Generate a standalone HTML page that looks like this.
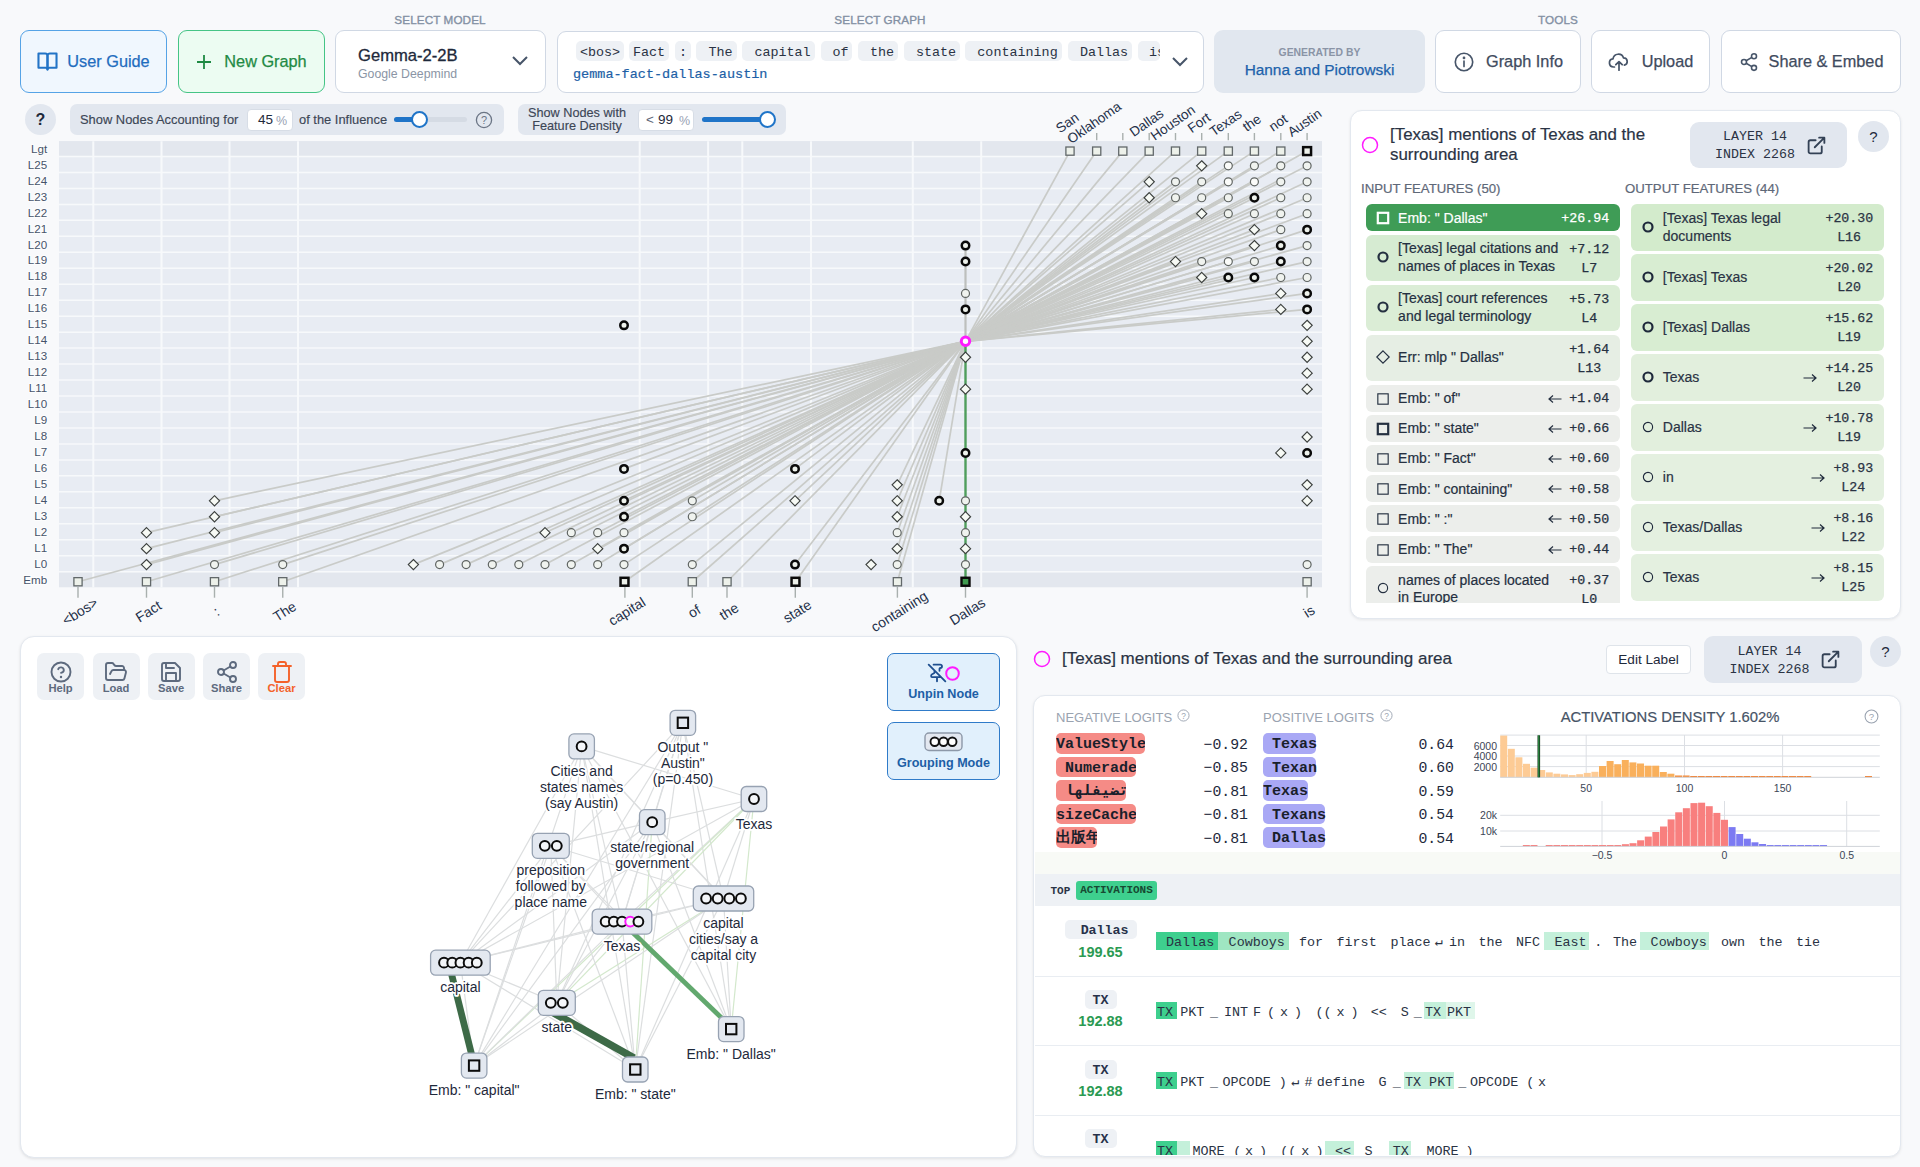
<!DOCTYPE html><html><head><meta charset="utf-8"><style>
*{box-sizing:border-box;margin:0;padding:0}
html,body{width:1920px;height:1167px;overflow:hidden;background:#f8f9fb;font-family:"Liberation Sans",sans-serif;color:#1e293b}
.a{position:absolute}
.lbl{position:absolute;font-size:11.7px;color:#8390a3;letter-spacing:0.1px;text-align:center;-webkit-text-stroke:0.35px #8390a3}
.btn{position:absolute;border:1.7px solid #d0d8e4;border-radius:9px;background:#fff;display:flex;align-items:center;justify-content:center;font-size:16.3px;color:#3f4b5e;-webkit-text-stroke:0.25px currentColor}
.mono{font-family:"Liberation Mono",monospace}
.chip{position:absolute;top:41px;height:20px;background:#eef1f5;border-radius:5px;font-family:"Liberation Mono",monospace;font-size:13.4px;color:#2a3344;line-height:23px;white-space:pre;text-align:center}
.ctl{position:absolute;background:#e2e7ef;border-radius:7px}
.ctxt{position:absolute;font-size:12.9px;color:#3c4656;white-space:nowrap;-webkit-text-stroke:0.15px currentColor}
.inp{position:absolute;background:#fff;border-radius:4px;border:1px solid #d7dde6}
.frow{position:absolute;border-radius:6px;font-size:14px;color:#2a3344}
.frow .t{position:absolute;left:31.8px;line-height:17px;white-space:nowrap;-webkit-text-stroke:0.2px currentColor}
.frow .v{position:absolute;font-family:"Liberation Mono",monospace;font-size:13.3px;text-align:right;line-height:22.5px;-webkit-text-stroke:0.25px currentColor}
.tb{position:absolute;top:653px;width:47px;height:47px;border-radius:7px;background:#eef1f5;font-size:11px;color:#5b6576;text-align:center}
.tb span{position:absolute;left:0;right:0;top:29px;font-weight:bold;font-size:11.2px}
.lg{position:absolute;font-family:"Liberation Mono",monospace;font-size:15px;font-weight:bold;height:20.5px;line-height:23px;border-radius:5px;padding:0 0px;color:#1a1f2b}
.lv{position:absolute;font-family:"Liberation Mono",monospace;font-size:14.8px;text-align:right;width:80px;line-height:20px;color:#1e293b}
.act{position:absolute;font-family:"Liberation Mono",monospace;font-size:13.4px;white-space:pre;color:#2a3344;line-height:18px}
.act b{font-weight:normal}
</style></head><body>
<div class="lbl" style="left:340px;top:12.7px;width:200px">SELECT MODEL</div>
<div class="lbl" style="left:780px;top:12.7px;width:200px">SELECT GRAPH</div>
<div class="lbl" style="left:1458px;top:12.7px;width:200px">TOOLS</div>
<div class="btn" style="left:20px;top:30px;width:147px;height:63px;background:#f0f7fe;border:1.8px solid #55a3e6;color:#1f6dbe"><svg width="21" height="19" viewBox="0 0 22 20" fill="none" stroke="#2374c6" stroke-width="2.2" stroke-linejoin="round" stroke-linecap="round" style="margin-right:9px"><path d="M1.5 1.5h7a2.5 2.5 0 0 1 2.5 2.5v14.5a2 2 0 0 0-2-2H1.5z"/><path d="M20.5 1.5h-7a2.5 2.5 0 0 0-2.5 2.5v14.5a2 2 0 0 1 2-2h7.5z"/></svg>User Guide</div>
<div class="btn" style="left:178px;top:30px;width:147px;height:63px;background:#ecfcf2;border:1.8px solid #45c486;color:#1f8a44"><svg width="16" height="16" viewBox="0 0 16 16" stroke="#1f8a44" stroke-width="1.8" style="margin-right:12px"><path d="M8 1v14M1 8h14"/></svg>New Graph</div>
<div class="btn" style="left:335px;top:30px;width:211px;height:63px;justify-content:flex-start;-webkit-text-stroke:0"><div class="a" style="left:22px;top:14.5px;font-size:16.6px;color:#1e293b;-webkit-text-stroke:0.3px #1e293b">Gemma-2-2B</div><div class="a" style="left:22px;top:36px;font-size:12.3px;color:#8b95a5">Google Deepmind</div><svg class="a" style="left:175px;top:24px" width="18" height="12" viewBox="0 0 18 12"><path d="M2 2l7 7 7-7" fill="none" stroke="#475569" stroke-width="2"/></svg></div>
<div class="btn" style="left:557px;top:31px;width:647px;height:62px;-webkit-text-stroke:0"></div>
<div class="chip" style="left:576px;width:48px">&lt;bos&gt;</div>
<div class="chip" style="left:629px;width:40px">Fact</div>
<div class="chip" style="left:675px;width:16px">:</div>
<div class="chip" style="left:696px;width:41px"> The</div>
<div class="chip" style="left:742px;width:73px"> capital</div>
<div class="chip" style="left:821px;width:31px"> of</div>
<div class="chip" style="left:858px;width:40px"> the</div>
<div class="chip" style="left:904px;width:56px"> state</div>
<div class="chip" style="left:965px;width:97px"> containing</div>
<div class="chip" style="left:1068px;width:64px"> Dallas</div>
<div class="chip" style="left:1138px;width:22px;overflow:hidden;text-align:left;padding-left:3px"> is</div>
<div class="a mono" style="left:573px;top:67px;font-size:13.5px;color:#1d5fa6;-webkit-text-stroke:0.2px #1d5fa6">gemma-fact-dallas-austin</div>
<svg class="a" style="left:1171px;top:56px" width="18" height="12" viewBox="0 0 18 12"><path d="M2 2l7 7 7-7" fill="none" stroke="#475569" stroke-width="2"/></svg>
<div class="a" style="left:1214px;top:30px;width:211px;height:63px;background:#e1e7ef;border-radius:9px"></div>
<div class="a" style="left:1214px;top:46.5px;width:211px;text-align:center;font-size:10.4px;font-weight:bold;color:#8a94a6">GENERATED BY</div>
<div class="a" style="left:1214px;top:61px;width:211px;text-align:center;font-size:15.4px;color:#1d62ab;-webkit-text-stroke:0.25px #1d62ab">Hanna and Piotrowski</div>
<div class="btn" style="left:1435px;top:30px;width:146px;height:63px"><svg width="22" height="22" viewBox="0 0 24 24" fill="none" stroke="#475569" stroke-width="1.8" style="margin-right:11px"><circle cx="12" cy="12" r="9.5"/><path d="M12 11v6" stroke-linecap="round"/><circle cx="12" cy="7.6" r="0.6" fill="#475569"/></svg>Graph Info</div>
<div class="btn" style="left:1591px;top:30px;width:119px;height:63px"><svg width="22" height="20" viewBox="0 0 24 22" fill="none" stroke="#475569" stroke-width="1.9" stroke-linecap="round" stroke-linejoin="round" style="margin-right:12px"><path d="M7 16.5H6a4.5 4.5 0 0 1-0.6-8.96A6 6 0 0 1 17 6.5a4 4 0 0 1 0.9 7.9"/><path d="M12 20v-9M8.5 14l3.5-3.5 3.5 3.5"/></svg>Upload</div>
<div class="btn" style="left:1721px;top:30px;width:180px;height:63px"><svg width="20" height="20" viewBox="0 0 24 24" fill="none" stroke="#475569" stroke-width="1.9" style="margin-right:10px"><circle cx="18" cy="5" r="3"/><circle cx="6" cy="12" r="3"/><circle cx="18" cy="19" r="3"/><path d="M8.6 13.5l6.8 4M15.4 6.5l-6.8 4"/></svg>Share &amp; Embed</div>
<div class="a" style="left:25px;top:104px;width:31px;height:31px;border-radius:50%;background:#e2e7ef;text-align:center;line-height:31px;font-size:16px;font-weight:bold;color:#1e293b">?</div>
<div class="ctl" style="left:70px;top:104px;width:434px;height:31px"></div>
<div class="ctxt" style="left:80px;top:111.5px">Show Nodes Accounting for</div>
<div class="inp" style="left:247px;top:109px;width:46px;height:22px"></div>
<div class="a" style="left:258px;top:111.5px;font-size:13.5px;color:#1e293b">45</div>
<div class="a" style="left:276px;top:113.5px;font-size:12.5px;color:#98a2b3">%</div>
<div class="ctxt" style="left:299px;top:111.5px">of the Influence</div>
<div class="a" style="left:394px;top:117px;width:73px;height:5px;border-radius:3px;background:#d5dbe4"></div>
<div class="a" style="left:394px;top:117px;width:26px;height:5px;border-radius:3px;background:#1f74c8"></div>
<div class="a" style="left:411px;top:111px;width:17px;height:17px;border-radius:50%;background:#fff;border:2px solid #1f74c8"></div>
<svg class="a" style="left:475px;top:111px" width="18" height="18" viewBox="0 0 18 18"><circle cx="9" cy="9" r="7.6" fill="none" stroke="#6b7585" stroke-width="1.3"/><text x="9" y="13" font-size="11" text-anchor="middle" fill="#6b7585" font-family="Liberation Sans">?</text></svg>
<div class="ctl" style="left:518px;top:104px;width:268px;height:31px"></div>
<div class="ctxt" style="left:518px;top:106.5px;width:118px;text-align:center;line-height:13px;font-size:12.7px">Show Nodes with<br>Feature Density</div>
<div class="inp" style="left:638px;top:109px;width:56px;height:22px"></div>
<div class="a" style="left:646px;top:111.5px;font-size:13.5px;color:#5b6576">&lt;</div>
<div class="a" style="left:658px;top:111.5px;font-size:13.5px;color:#1e293b">99</div>
<div class="a" style="left:679px;top:113.5px;font-size:12.5px;color:#98a2b3">%</div>
<div class="a" style="left:702px;top:117px;width:66px;height:5px;border-radius:3px;background:#1f74c8"></div>
<div class="a" style="left:759px;top:111px;width:17px;height:17px;border-radius:50%;background:#fff;border:2px solid #1f74c8"></div>
<svg class="a" style="left:0;top:0" width="1340" height="640" viewBox="0 0 1340 640"><rect x="59" y="141.2" width="1263" height="445.99" fill="#e8ecf3"/><rect x="59" y="141.2" width="1263" height="15" fill="#e3e7ee"/><rect x="59" y="572.39" width="1263" height="14.8" fill="#e3e7ee"/><line x1="59" x2="1322" y1="156.47" y2="156.47" stroke="#f7f9fb" stroke-width="1.5"/><line x1="59" x2="1322" y1="172.44" y2="172.44" stroke="#f7f9fb" stroke-width="1.5"/><line x1="59" x2="1322" y1="188.41" y2="188.41" stroke="#f7f9fb" stroke-width="1.5"/><line x1="59" x2="1322" y1="204.38" y2="204.38" stroke="#f7f9fb" stroke-width="1.5"/><line x1="59" x2="1322" y1="220.35" y2="220.35" stroke="#f7f9fb" stroke-width="1.5"/><line x1="59" x2="1322" y1="236.32" y2="236.32" stroke="#f7f9fb" stroke-width="1.5"/><line x1="59" x2="1322" y1="252.29" y2="252.29" stroke="#f7f9fb" stroke-width="1.5"/><line x1="59" x2="1322" y1="268.26" y2="268.26" stroke="#f7f9fb" stroke-width="1.5"/><line x1="59" x2="1322" y1="284.23" y2="284.23" stroke="#f7f9fb" stroke-width="1.5"/><line x1="59" x2="1322" y1="300.20" y2="300.20" stroke="#f7f9fb" stroke-width="1.5"/><line x1="59" x2="1322" y1="316.17" y2="316.17" stroke="#f7f9fb" stroke-width="1.5"/><line x1="59" x2="1322" y1="332.14" y2="332.14" stroke="#f7f9fb" stroke-width="1.5"/><line x1="59" x2="1322" y1="348.11" y2="348.11" stroke="#f7f9fb" stroke-width="1.5"/><line x1="59" x2="1322" y1="364.08" y2="364.08" stroke="#f7f9fb" stroke-width="1.5"/><line x1="59" x2="1322" y1="380.05" y2="380.05" stroke="#f7f9fb" stroke-width="1.5"/><line x1="59" x2="1322" y1="396.02" y2="396.02" stroke="#f7f9fb" stroke-width="1.5"/><line x1="59" x2="1322" y1="411.99" y2="411.99" stroke="#f7f9fb" stroke-width="1.5"/><line x1="59" x2="1322" y1="427.96" y2="427.96" stroke="#f7f9fb" stroke-width="1.5"/><line x1="59" x2="1322" y1="443.93" y2="443.93" stroke="#f7f9fb" stroke-width="1.5"/><line x1="59" x2="1322" y1="459.90" y2="459.90" stroke="#f7f9fb" stroke-width="1.5"/><line x1="59" x2="1322" y1="475.87" y2="475.87" stroke="#f7f9fb" stroke-width="1.5"/><line x1="59" x2="1322" y1="491.84" y2="491.84" stroke="#f7f9fb" stroke-width="1.5"/><line x1="59" x2="1322" y1="507.81" y2="507.81" stroke="#f7f9fb" stroke-width="1.5"/><line x1="59" x2="1322" y1="523.78" y2="523.78" stroke="#f7f9fb" stroke-width="1.5"/><line x1="59" x2="1322" y1="539.75" y2="539.75" stroke="#f7f9fb" stroke-width="1.5"/><line x1="59" x2="1322" y1="555.72" y2="555.72" stroke="#f7f9fb" stroke-width="1.5"/><line x1="59" x2="1322" y1="571.69" y2="571.69" stroke="#f7f9fb" stroke-width="1.5"/><line x1="93.3" x2="93.3" y1="141.2" y2="587.19" stroke="#f7f9fb" stroke-width="2"/><line x1="161.5" x2="161.5" y1="141.2" y2="587.19" stroke="#f7f9fb" stroke-width="2"/><line x1="229.5" x2="229.5" y1="141.2" y2="587.19" stroke="#f7f9fb" stroke-width="2"/><line x1="298" x2="298" y1="141.2" y2="587.19" stroke="#f7f9fb" stroke-width="2"/><line x1="639.7" x2="639.7" y1="141.2" y2="587.19" stroke="#f7f9fb" stroke-width="2"/><line x1="708.1" x2="708.1" y1="141.2" y2="587.19" stroke="#f7f9fb" stroke-width="2"/><line x1="742.3" x2="742.3" y1="141.2" y2="587.19" stroke="#f7f9fb" stroke-width="2"/><line x1="811" x2="811" y1="141.2" y2="587.19" stroke="#f7f9fb" stroke-width="2"/><line x1="912.8" x2="912.8" y1="141.2" y2="587.19" stroke="#f7f9fb" stroke-width="2"/><line x1="981.2" x2="981.2" y1="141.2" y2="587.19" stroke="#f7f9fb" stroke-width="2"/><text x="47.2" y="152.70" font-size="11.6" text-anchor="end" fill="#46536a" stroke="#fff" stroke-width="2" stroke-opacity="0.7" paint-order="stroke" font-family="Liberation Sans">Lgt</text><text x="47.2" y="168.67" font-size="11.6" text-anchor="end" fill="#46536a" stroke="#fff" stroke-width="2" stroke-opacity="0.7" paint-order="stroke" font-family="Liberation Sans">L25</text><text x="47.2" y="184.64" font-size="11.6" text-anchor="end" fill="#46536a" stroke="#fff" stroke-width="2" stroke-opacity="0.7" paint-order="stroke" font-family="Liberation Sans">L24</text><text x="47.2" y="200.61" font-size="11.6" text-anchor="end" fill="#46536a" stroke="#fff" stroke-width="2" stroke-opacity="0.7" paint-order="stroke" font-family="Liberation Sans">L23</text><text x="47.2" y="216.58" font-size="11.6" text-anchor="end" fill="#46536a" stroke="#fff" stroke-width="2" stroke-opacity="0.7" paint-order="stroke" font-family="Liberation Sans">L22</text><text x="47.2" y="232.55" font-size="11.6" text-anchor="end" fill="#46536a" stroke="#fff" stroke-width="2" stroke-opacity="0.7" paint-order="stroke" font-family="Liberation Sans">L21</text><text x="47.2" y="248.52" font-size="11.6" text-anchor="end" fill="#46536a" stroke="#fff" stroke-width="2" stroke-opacity="0.7" paint-order="stroke" font-family="Liberation Sans">L20</text><text x="47.2" y="264.49" font-size="11.6" text-anchor="end" fill="#46536a" stroke="#fff" stroke-width="2" stroke-opacity="0.7" paint-order="stroke" font-family="Liberation Sans">L19</text><text x="47.2" y="280.46" font-size="11.6" text-anchor="end" fill="#46536a" stroke="#fff" stroke-width="2" stroke-opacity="0.7" paint-order="stroke" font-family="Liberation Sans">L18</text><text x="47.2" y="296.43" font-size="11.6" text-anchor="end" fill="#46536a" stroke="#fff" stroke-width="2" stroke-opacity="0.7" paint-order="stroke" font-family="Liberation Sans">L17</text><text x="47.2" y="312.40" font-size="11.6" text-anchor="end" fill="#46536a" stroke="#fff" stroke-width="2" stroke-opacity="0.7" paint-order="stroke" font-family="Liberation Sans">L16</text><text x="47.2" y="328.37" font-size="11.6" text-anchor="end" fill="#46536a" stroke="#fff" stroke-width="2" stroke-opacity="0.7" paint-order="stroke" font-family="Liberation Sans">L15</text><text x="47.2" y="344.34" font-size="11.6" text-anchor="end" fill="#46536a" stroke="#fff" stroke-width="2" stroke-opacity="0.7" paint-order="stroke" font-family="Liberation Sans">L14</text><text x="47.2" y="360.31" font-size="11.6" text-anchor="end" fill="#46536a" stroke="#fff" stroke-width="2" stroke-opacity="0.7" paint-order="stroke" font-family="Liberation Sans">L13</text><text x="47.2" y="376.28" font-size="11.6" text-anchor="end" fill="#46536a" stroke="#fff" stroke-width="2" stroke-opacity="0.7" paint-order="stroke" font-family="Liberation Sans">L12</text><text x="47.2" y="392.25" font-size="11.6" text-anchor="end" fill="#46536a" stroke="#fff" stroke-width="2" stroke-opacity="0.7" paint-order="stroke" font-family="Liberation Sans">L11</text><text x="47.2" y="408.22" font-size="11.6" text-anchor="end" fill="#46536a" stroke="#fff" stroke-width="2" stroke-opacity="0.7" paint-order="stroke" font-family="Liberation Sans">L10</text><text x="47.2" y="424.19" font-size="11.6" text-anchor="end" fill="#46536a" stroke="#fff" stroke-width="2" stroke-opacity="0.7" paint-order="stroke" font-family="Liberation Sans">L9</text><text x="47.2" y="440.16" font-size="11.6" text-anchor="end" fill="#46536a" stroke="#fff" stroke-width="2" stroke-opacity="0.7" paint-order="stroke" font-family="Liberation Sans">L8</text><text x="47.2" y="456.13" font-size="11.6" text-anchor="end" fill="#46536a" stroke="#fff" stroke-width="2" stroke-opacity="0.7" paint-order="stroke" font-family="Liberation Sans">L7</text><text x="47.2" y="472.10" font-size="11.6" text-anchor="end" fill="#46536a" stroke="#fff" stroke-width="2" stroke-opacity="0.7" paint-order="stroke" font-family="Liberation Sans">L6</text><text x="47.2" y="488.07" font-size="11.6" text-anchor="end" fill="#46536a" stroke="#fff" stroke-width="2" stroke-opacity="0.7" paint-order="stroke" font-family="Liberation Sans">L5</text><text x="47.2" y="504.04" font-size="11.6" text-anchor="end" fill="#46536a" stroke="#fff" stroke-width="2" stroke-opacity="0.7" paint-order="stroke" font-family="Liberation Sans">L4</text><text x="47.2" y="520.01" font-size="11.6" text-anchor="end" fill="#46536a" stroke="#fff" stroke-width="2" stroke-opacity="0.7" paint-order="stroke" font-family="Liberation Sans">L3</text><text x="47.2" y="535.98" font-size="11.6" text-anchor="end" fill="#46536a" stroke="#fff" stroke-width="2" stroke-opacity="0.7" paint-order="stroke" font-family="Liberation Sans">L2</text><text x="47.2" y="551.95" font-size="11.6" text-anchor="end" fill="#46536a" stroke="#fff" stroke-width="2" stroke-opacity="0.7" paint-order="stroke" font-family="Liberation Sans">L1</text><text x="47.2" y="567.92" font-size="11.6" text-anchor="end" fill="#46536a" stroke="#fff" stroke-width="2" stroke-opacity="0.7" paint-order="stroke" font-family="Liberation Sans">L0</text><text x="47.2" y="583.89" font-size="11.6" text-anchor="end" fill="#46536a" stroke="#fff" stroke-width="2" stroke-opacity="0.7" paint-order="stroke" font-family="Liberation Sans">Emb</text><line x1="965.5" y1="341.30" x2="78" y2="581.75" stroke="#c9cbc8" stroke-width="1.7"/><line x1="965.5" y1="341.30" x2="146.5" y2="532.70" stroke="#c9cbc8" stroke-width="1.7"/><line x1="965.5" y1="341.30" x2="146.5" y2="548.65" stroke="#c9cbc8" stroke-width="1.7"/><line x1="965.5" y1="341.30" x2="146.5" y2="564.60" stroke="#c9cbc8" stroke-width="1.7"/><line x1="965.5" y1="341.30" x2="146.5" y2="581.75" stroke="#c9cbc8" stroke-width="1.7"/><line x1="965.5" y1="341.30" x2="214.5" y2="500.80" stroke="#c9cbc8" stroke-width="1.7"/><line x1="965.5" y1="341.30" x2="214.5" y2="516.75" stroke="#c9cbc8" stroke-width="1.7"/><line x1="965.5" y1="341.30" x2="214.5" y2="532.70" stroke="#c9cbc8" stroke-width="1.7"/><line x1="965.5" y1="341.30" x2="214.5" y2="564.60" stroke="#c9cbc8" stroke-width="1.7"/><line x1="965.5" y1="341.30" x2="214.5" y2="581.75" stroke="#c9cbc8" stroke-width="1.7"/><line x1="965.5" y1="341.30" x2="282.75" y2="564.60" stroke="#c9cbc8" stroke-width="1.7"/><line x1="965.5" y1="341.30" x2="282.75" y2="581.75" stroke="#c9cbc8" stroke-width="1.7"/><line x1="965.5" y1="341.30" x2="413.4" y2="564.60" stroke="#c9cbc8" stroke-width="1.7"/><line x1="965.5" y1="341.30" x2="439.6" y2="564.60" stroke="#c9cbc8" stroke-width="1.7"/><line x1="965.5" y1="341.30" x2="466.1" y2="564.60" stroke="#c9cbc8" stroke-width="1.7"/><line x1="965.5" y1="341.30" x2="492.3" y2="564.60" stroke="#c9cbc8" stroke-width="1.7"/><line x1="965.5" y1="341.30" x2="518.8" y2="564.60" stroke="#c9cbc8" stroke-width="1.7"/><line x1="965.5" y1="341.30" x2="545" y2="564.60" stroke="#c9cbc8" stroke-width="1.7"/><line x1="965.5" y1="341.30" x2="571.3" y2="564.60" stroke="#c9cbc8" stroke-width="1.7"/><line x1="965.5" y1="341.30" x2="597.7" y2="564.60" stroke="#c9cbc8" stroke-width="1.7"/><line x1="965.5" y1="341.30" x2="545" y2="532.70" stroke="#c9cbc8" stroke-width="1.7"/><line x1="965.5" y1="341.30" x2="571.3" y2="532.70" stroke="#c9cbc8" stroke-width="1.7"/><line x1="965.5" y1="341.30" x2="597.7" y2="532.70" stroke="#c9cbc8" stroke-width="1.7"/><line x1="965.5" y1="341.30" x2="597.7" y2="548.65" stroke="#c9cbc8" stroke-width="1.7"/><line x1="965.5" y1="341.30" x2="624.0" y2="468.90" stroke="#c9cbc8" stroke-width="1.7"/><line x1="965.5" y1="341.30" x2="624.0" y2="500.80" stroke="#c9cbc8" stroke-width="1.7"/><line x1="965.5" y1="341.30" x2="624.0" y2="516.75" stroke="#c9cbc8" stroke-width="1.7"/><line x1="965.5" y1="341.30" x2="624.0" y2="532.70" stroke="#c9cbc8" stroke-width="1.7"/><line x1="965.5" y1="341.30" x2="624.0" y2="548.65" stroke="#c9cbc8" stroke-width="1.7"/><line x1="965.5" y1="341.30" x2="624.0" y2="564.60" stroke="#c9cbc8" stroke-width="1.7"/><line x1="965.5" y1="341.30" x2="624.5" y2="581.75" stroke="#c9cbc8" stroke-width="1.7"/><line x1="965.5" y1="341.30" x2="692.3" y2="500.80" stroke="#c9cbc8" stroke-width="1.7"/><line x1="965.5" y1="341.30" x2="692.3" y2="516.75" stroke="#c9cbc8" stroke-width="1.7"/><line x1="965.5" y1="341.30" x2="692.3" y2="564.60" stroke="#c9cbc8" stroke-width="1.7"/><line x1="965.5" y1="341.30" x2="692.3" y2="581.75" stroke="#c9cbc8" stroke-width="1.7"/><line x1="965.5" y1="341.30" x2="727" y2="581.75" stroke="#c9cbc8" stroke-width="1.7"/><line x1="965.5" y1="341.30" x2="795" y2="468.90" stroke="#c9cbc8" stroke-width="1.7"/><line x1="965.5" y1="341.30" x2="795" y2="500.80" stroke="#c9cbc8" stroke-width="1.7"/><line x1="965.5" y1="341.30" x2="795" y2="564.60" stroke="#c9cbc8" stroke-width="1.7"/><line x1="965.5" y1="341.30" x2="795.5" y2="581.75" stroke="#c9cbc8" stroke-width="1.7"/><line x1="965.5" y1="341.30" x2="897.2" y2="484.85" stroke="#c9cbc8" stroke-width="1.7"/><line x1="965.5" y1="341.30" x2="897.2" y2="500.80" stroke="#c9cbc8" stroke-width="1.7"/><line x1="965.5" y1="341.30" x2="897.2" y2="516.75" stroke="#c9cbc8" stroke-width="1.7"/><line x1="965.5" y1="341.30" x2="897.2" y2="532.70" stroke="#c9cbc8" stroke-width="1.7"/><line x1="965.5" y1="341.30" x2="897.2" y2="548.65" stroke="#c9cbc8" stroke-width="1.7"/><line x1="965.5" y1="341.30" x2="897.2" y2="564.60" stroke="#c9cbc8" stroke-width="1.7"/><line x1="965.5" y1="341.30" x2="897.4" y2="581.75" stroke="#c9cbc8" stroke-width="1.7"/><line x1="965.5" y1="341.30" x2="939.2" y2="500.80" stroke="#c9cbc8" stroke-width="1.7"/><line x1="965.5" y1="341.30" x2="1070" y2="151.10" stroke="#c9cbc8" stroke-width="1.7"/><line x1="965.5" y1="341.30" x2="1096.7" y2="151.10" stroke="#c9cbc8" stroke-width="1.7"/><line x1="965.5" y1="341.30" x2="1122.8" y2="151.10" stroke="#c9cbc8" stroke-width="1.7"/><line x1="965.5" y1="341.30" x2="1149.2" y2="151.10" stroke="#c9cbc8" stroke-width="1.7"/><line x1="965.5" y1="341.30" x2="1175.5" y2="151.10" stroke="#c9cbc8" stroke-width="1.7"/><line x1="965.5" y1="341.30" x2="1201.7" y2="151.10" stroke="#c9cbc8" stroke-width="1.7"/><line x1="965.5" y1="341.30" x2="1228.3" y2="151.10" stroke="#c9cbc8" stroke-width="1.7"/><line x1="965.5" y1="341.30" x2="1254.4" y2="151.10" stroke="#c9cbc8" stroke-width="1.7"/><line x1="965.5" y1="341.30" x2="1280.8" y2="151.10" stroke="#c9cbc8" stroke-width="1.7"/><line x1="965.5" y1="341.30" x2="1307.1" y2="151.10" stroke="#c9cbc8" stroke-width="1.7"/><line x1="965.5" y1="341.30" x2="1201.7" y2="165.85" stroke="#c9cbc8" stroke-width="1.7"/><line x1="965.5" y1="341.30" x2="1228.3" y2="165.85" stroke="#c9cbc8" stroke-width="1.7"/><line x1="965.5" y1="341.30" x2="1254.4" y2="165.85" stroke="#c9cbc8" stroke-width="1.7"/><line x1="965.5" y1="341.30" x2="1280.8" y2="165.85" stroke="#c9cbc8" stroke-width="1.7"/><line x1="965.5" y1="341.30" x2="1307.1" y2="165.85" stroke="#c9cbc8" stroke-width="1.7"/><line x1="965.5" y1="341.30" x2="1149.2" y2="181.80" stroke="#c9cbc8" stroke-width="1.7"/><line x1="965.5" y1="341.30" x2="1175.5" y2="181.80" stroke="#c9cbc8" stroke-width="1.7"/><line x1="965.5" y1="341.30" x2="1201.7" y2="181.80" stroke="#c9cbc8" stroke-width="1.7"/><line x1="965.5" y1="341.30" x2="1228.3" y2="181.80" stroke="#c9cbc8" stroke-width="1.7"/><line x1="965.5" y1="341.30" x2="1254.4" y2="181.80" stroke="#c9cbc8" stroke-width="1.7"/><line x1="965.5" y1="341.30" x2="1280.8" y2="181.80" stroke="#c9cbc8" stroke-width="1.7"/><line x1="965.5" y1="341.30" x2="1307.1" y2="181.80" stroke="#c9cbc8" stroke-width="1.7"/><line x1="965.5" y1="341.30" x2="1149.2" y2="197.75" stroke="#c9cbc8" stroke-width="1.7"/><line x1="965.5" y1="341.30" x2="1175.5" y2="197.75" stroke="#c9cbc8" stroke-width="1.7"/><line x1="965.5" y1="341.30" x2="1201.7" y2="197.75" stroke="#c9cbc8" stroke-width="1.7"/><line x1="965.5" y1="341.30" x2="1228.3" y2="197.75" stroke="#c9cbc8" stroke-width="1.7"/><line x1="965.5" y1="341.30" x2="1254.4" y2="197.75" stroke="#c9cbc8" stroke-width="1.7"/><line x1="965.5" y1="341.30" x2="1280.8" y2="197.75" stroke="#c9cbc8" stroke-width="1.7"/><line x1="965.5" y1="341.30" x2="1307.1" y2="197.75" stroke="#c9cbc8" stroke-width="1.7"/><line x1="965.5" y1="341.30" x2="1201.7" y2="213.70" stroke="#c9cbc8" stroke-width="1.7"/><line x1="965.5" y1="341.30" x2="1228.3" y2="213.70" stroke="#c9cbc8" stroke-width="1.7"/><line x1="965.5" y1="341.30" x2="1254.4" y2="213.70" stroke="#c9cbc8" stroke-width="1.7"/><line x1="965.5" y1="341.30" x2="1280.8" y2="213.70" stroke="#c9cbc8" stroke-width="1.7"/><line x1="965.5" y1="341.30" x2="1307.1" y2="213.70" stroke="#c9cbc8" stroke-width="1.7"/><line x1="965.5" y1="341.30" x2="1254.4" y2="229.65" stroke="#c9cbc8" stroke-width="1.7"/><line x1="965.5" y1="341.30" x2="1280.8" y2="229.65" stroke="#c9cbc8" stroke-width="1.7"/><line x1="965.5" y1="341.30" x2="1307.1" y2="229.65" stroke="#c9cbc8" stroke-width="1.7"/><line x1="965.5" y1="341.30" x2="1254.4" y2="245.60" stroke="#c9cbc8" stroke-width="1.7"/><line x1="965.5" y1="341.30" x2="1280.8" y2="245.60" stroke="#c9cbc8" stroke-width="1.7"/><line x1="965.5" y1="341.30" x2="1307.1" y2="245.60" stroke="#c9cbc8" stroke-width="1.7"/><line x1="965.5" y1="341.30" x2="1175.5" y2="261.55" stroke="#c9cbc8" stroke-width="1.7"/><line x1="965.5" y1="341.30" x2="1201.7" y2="261.55" stroke="#c9cbc8" stroke-width="1.7"/><line x1="965.5" y1="341.30" x2="1228.3" y2="261.55" stroke="#c9cbc8" stroke-width="1.7"/><line x1="965.5" y1="341.30" x2="1254.4" y2="261.55" stroke="#c9cbc8" stroke-width="1.7"/><line x1="965.5" y1="341.30" x2="1280.8" y2="261.55" stroke="#c9cbc8" stroke-width="1.7"/><line x1="965.5" y1="341.30" x2="1307.1" y2="261.55" stroke="#c9cbc8" stroke-width="1.7"/><line x1="965.5" y1="341.30" x2="1201.7" y2="277.50" stroke="#c9cbc8" stroke-width="1.7"/><line x1="965.5" y1="341.30" x2="1228.3" y2="277.50" stroke="#c9cbc8" stroke-width="1.7"/><line x1="965.5" y1="341.30" x2="1254.4" y2="277.50" stroke="#c9cbc8" stroke-width="1.7"/><line x1="965.5" y1="341.30" x2="1280.8" y2="277.50" stroke="#c9cbc8" stroke-width="1.7"/><line x1="965.5" y1="341.30" x2="1307.1" y2="277.50" stroke="#c9cbc8" stroke-width="1.7"/><line x1="965.5" y1="341.30" x2="1280.8" y2="293.45" stroke="#c9cbc8" stroke-width="1.7"/><line x1="965.5" y1="341.30" x2="1307.1" y2="293.45" stroke="#c9cbc8" stroke-width="1.7"/><line x1="965.5" y1="341.30" x2="1280.8" y2="309.40" stroke="#c9cbc8" stroke-width="1.7"/><line x1="965.5" y1="341.30" x2="1307.1" y2="309.40" stroke="#c9cbc8" stroke-width="1.7"/><line x1="965.5" y1="245.60" x2="965.5" y2="341.30" stroke="#bdbfbd" stroke-width="2.2"/><line x1="965.5" y1="341.30" x2="965.5" y2="581.75" stroke="#4f9e5c" stroke-width="2.4"/><rect x="73.9" y="577.65" width="8.2" height="8.2" fill="#edf1ea" stroke="#62686a" stroke-width="1.3"/><path d="M146.5 527.60L151.6 532.70L146.5 537.80L141.4 532.70Z" fill="#f7faf5" stroke="#3c403e" stroke-width="1.15"/><path d="M146.5 543.55L151.6 548.65L146.5 553.75L141.4 548.65Z" fill="#f7faf5" stroke="#3c403e" stroke-width="1.15"/><path d="M146.5 559.50L151.6 564.60L146.5 569.70L141.4 564.60Z" fill="#f7faf5" stroke="#3c403e" stroke-width="1.15"/><rect x="142.4" y="577.65" width="8.2" height="8.2" fill="#edf1ea" stroke="#62686a" stroke-width="1.3"/><path d="M214.5 495.70L219.6 500.80L214.5 505.90L209.4 500.80Z" fill="#f7faf5" stroke="#3c403e" stroke-width="1.15"/><path d="M214.5 511.65L219.6 516.75L214.5 521.85L209.4 516.75Z" fill="#f7faf5" stroke="#3c403e" stroke-width="1.15"/><path d="M214.5 527.60L219.6 532.70L214.5 537.80L209.4 532.70Z" fill="#f7faf5" stroke="#3c403e" stroke-width="1.15"/><circle cx="214.5" cy="564.60" r="4.0" fill="#f0f3ef" stroke="#5f6462" stroke-width="1.2"/><rect x="210.4" y="577.65" width="8.2" height="8.2" fill="#edf1ea" stroke="#62686a" stroke-width="1.3"/><circle cx="282.75" cy="564.60" r="4.0" fill="#f0f3ef" stroke="#5f6462" stroke-width="1.2"/><rect x="278.65" y="577.65" width="8.2" height="8.2" fill="#edf1ea" stroke="#62686a" stroke-width="1.3"/><path d="M413.4 559.50L418.5 564.60L413.4 569.70L408.29999999999995 564.60Z" fill="#f7faf5" stroke="#3c403e" stroke-width="1.15"/><circle cx="439.6" cy="564.60" r="4.0" fill="#f0f3ef" stroke="#5f6462" stroke-width="1.2"/><circle cx="466.1" cy="564.60" r="4.0" fill="#f0f3ef" stroke="#5f6462" stroke-width="1.2"/><circle cx="492.3" cy="564.60" r="4.0" fill="#f0f3ef" stroke="#5f6462" stroke-width="1.2"/><circle cx="518.8" cy="564.60" r="4.0" fill="#f0f3ef" stroke="#5f6462" stroke-width="1.2"/><circle cx="545" cy="564.60" r="4.0" fill="#f0f3ef" stroke="#5f6462" stroke-width="1.2"/><circle cx="571.3" cy="564.60" r="4.0" fill="#f0f3ef" stroke="#5f6462" stroke-width="1.2"/><circle cx="597.7" cy="564.60" r="4.0" fill="#f0f3ef" stroke="#5f6462" stroke-width="1.2"/><path d="M545 527.60L550.1 532.70L545 537.80L539.9 532.70Z" fill="#f7faf5" stroke="#3c403e" stroke-width="1.15"/><circle cx="571.3" cy="532.70" r="4.0" fill="#f0f3ef" stroke="#5f6462" stroke-width="1.2"/><circle cx="597.7" cy="532.70" r="4.0" fill="#f0f3ef" stroke="#5f6462" stroke-width="1.2"/><path d="M597.7 543.55L602.8000000000001 548.65L597.7 553.75L592.6 548.65Z" fill="#f7faf5" stroke="#3c403e" stroke-width="1.15"/><circle cx="624.0" cy="325.35" r="3.75" fill="#eef2ec" stroke="#0a0a0a" stroke-width="2.5"/><circle cx="624.0" cy="468.90" r="3.75" fill="#eef2ec" stroke="#0a0a0a" stroke-width="2.5"/><circle cx="624.0" cy="500.80" r="3.75" fill="#eef2ec" stroke="#0a0a0a" stroke-width="2.5"/><circle cx="624.0" cy="516.75" r="3.75" fill="#eef2ec" stroke="#0a0a0a" stroke-width="2.5"/><circle cx="624.0" cy="532.70" r="4.0" fill="#f0f3ef" stroke="#5f6462" stroke-width="1.2"/><circle cx="624.0" cy="548.65" r="3.75" fill="#eef2ec" stroke="#0a0a0a" stroke-width="2.5"/><circle cx="624.0" cy="564.60" r="4.0" fill="#f0f3ef" stroke="#5f6462" stroke-width="1.2"/><rect x="620.55" y="577.80" width="7.9" height="7.9" fill="#edf1ea" stroke="#0a0a0a" stroke-width="2.5"/><circle cx="692.3" cy="500.80" r="4.0" fill="#f0f3ef" stroke="#5f6462" stroke-width="1.2"/><circle cx="692.3" cy="516.75" r="4.0" fill="#f0f3ef" stroke="#5f6462" stroke-width="1.2"/><circle cx="692.3" cy="564.60" r="4.0" fill="#f0f3ef" stroke="#5f6462" stroke-width="1.2"/><rect x="688.1999999999999" y="577.65" width="8.2" height="8.2" fill="#edf1ea" stroke="#62686a" stroke-width="1.3"/><rect x="722.9" y="577.65" width="8.2" height="8.2" fill="#edf1ea" stroke="#62686a" stroke-width="1.3"/><circle cx="795" cy="468.90" r="3.75" fill="#eef2ec" stroke="#0a0a0a" stroke-width="2.5"/><path d="M795 495.70L800.1 500.80L795 505.90L789.9 500.80Z" fill="#f7faf5" stroke="#3c403e" stroke-width="1.15"/><circle cx="795" cy="564.60" r="3.75" fill="#eef2ec" stroke="#0a0a0a" stroke-width="2.5"/><rect x="791.55" y="577.80" width="7.9" height="7.9" fill="#edf1ea" stroke="#0a0a0a" stroke-width="2.5"/><path d="M897.2 479.75L902.3000000000001 484.85L897.2 489.95L892.1 484.85Z" fill="#f7faf5" stroke="#3c403e" stroke-width="1.15"/><path d="M897.2 495.70L902.3000000000001 500.80L897.2 505.90L892.1 500.80Z" fill="#f7faf5" stroke="#3c403e" stroke-width="1.15"/><path d="M897.2 511.65L902.3000000000001 516.75L897.2 521.85L892.1 516.75Z" fill="#f7faf5" stroke="#3c403e" stroke-width="1.15"/><circle cx="897.2" cy="532.70" r="4.0" fill="#f0f3ef" stroke="#5f6462" stroke-width="1.2"/><path d="M897.2 543.55L902.3000000000001 548.65L897.2 553.75L892.1 548.65Z" fill="#f7faf5" stroke="#3c403e" stroke-width="1.15"/><circle cx="897.2" cy="564.60" r="4.0" fill="#f0f3ef" stroke="#5f6462" stroke-width="1.2"/><rect x="893.3" y="577.65" width="8.2" height="8.2" fill="#edf1ea" stroke="#62686a" stroke-width="1.3"/><path d="M871.1 559.50L876.2 564.60L871.1 569.70L866.0 564.60Z" fill="#f7faf5" stroke="#3c403e" stroke-width="1.15"/><circle cx="939.2" cy="500.80" r="3.75" fill="#eef2ec" stroke="#0a0a0a" stroke-width="2.5"/><circle cx="965.5" cy="245.60" r="3.75" fill="#eef2ec" stroke="#0a0a0a" stroke-width="2.5"/><circle cx="965.5" cy="261.55" r="3.75" fill="#eef2ec" stroke="#0a0a0a" stroke-width="2.5"/><circle cx="965.5" cy="293.45" r="4.0" fill="#f0f3ef" stroke="#5f6462" stroke-width="1.2"/><circle cx="965.5" cy="309.40" r="3.75" fill="#eef2ec" stroke="#0a0a0a" stroke-width="2.5"/><path d="M965.5 352.15L970.6 357.25L965.5 362.35L960.4 357.25Z" fill="#f7faf5" stroke="#3c403e" stroke-width="1.15"/><path d="M965.5 384.05L970.6 389.15L965.5 394.25L960.4 389.15Z" fill="#f7faf5" stroke="#3c403e" stroke-width="1.15"/><circle cx="965.5" cy="452.95" r="3.75" fill="#eef2ec" stroke="#0a0a0a" stroke-width="2.5"/><circle cx="965.5" cy="500.80" r="4.0" fill="#f0f3ef" stroke="#5f6462" stroke-width="1.2"/><path d="M965.5 511.65L970.6 516.75L965.5 521.85L960.4 516.75Z" fill="#f7faf5" stroke="#3c403e" stroke-width="1.15"/><circle cx="965.5" cy="532.70" r="4.0" fill="#f0f3ef" stroke="#5f6462" stroke-width="1.2"/><path d="M965.5 543.55L970.6 548.65L965.5 553.75L960.4 548.65Z" fill="#f7faf5" stroke="#3c403e" stroke-width="1.15"/><circle cx="965.5" cy="564.60" r="4.0" fill="#f0f3ef" stroke="#5f6462" stroke-width="1.2"/><rect x="961.5" y="577.75" width="8" height="8" fill="#3f9a4f" stroke="#0a0a0a" stroke-width="2.4"/><rect x="1065.9" y="147.00" width="8.2" height="8.2" fill="#edf1ea" stroke="#62686a" stroke-width="1.3"/><rect x="1092.6000000000001" y="147.00" width="8.2" height="8.2" fill="#edf1ea" stroke="#62686a" stroke-width="1.3"/><rect x="1118.7" y="147.00" width="8.2" height="8.2" fill="#edf1ea" stroke="#62686a" stroke-width="1.3"/><rect x="1145.1000000000001" y="147.00" width="8.2" height="8.2" fill="#edf1ea" stroke="#62686a" stroke-width="1.3"/><rect x="1171.4" y="147.00" width="8.2" height="8.2" fill="#edf1ea" stroke="#62686a" stroke-width="1.3"/><rect x="1197.6000000000001" y="147.00" width="8.2" height="8.2" fill="#edf1ea" stroke="#62686a" stroke-width="1.3"/><rect x="1224.2" y="147.00" width="8.2" height="8.2" fill="#edf1ea" stroke="#62686a" stroke-width="1.3"/><rect x="1250.3000000000002" y="147.00" width="8.2" height="8.2" fill="#edf1ea" stroke="#62686a" stroke-width="1.3"/><rect x="1276.7" y="147.00" width="8.2" height="8.2" fill="#edf1ea" stroke="#62686a" stroke-width="1.3"/><rect x="1303.1499999999999" y="147.15" width="7.9" height="7.9" fill="#edf1ea" stroke="#0a0a0a" stroke-width="2.5"/><path d="M1201.7 160.75L1206.8 165.85L1201.7 170.95L1196.6000000000001 165.85Z" fill="#f7faf5" stroke="#3c403e" stroke-width="1.15"/><circle cx="1228.3" cy="165.85" r="4.0" fill="#fbfcfa" stroke="#5f6462" stroke-width="1.2"/><circle cx="1254.4" cy="165.85" r="4.0" fill="#f0f3ef" stroke="#5f6462" stroke-width="1.2"/><circle cx="1280.8" cy="165.85" r="4.0" fill="#f0f3ef" stroke="#5f6462" stroke-width="1.2"/><circle cx="1307.1" cy="165.85" r="4.0" fill="#f0f3ef" stroke="#5f6462" stroke-width="1.2"/><path d="M1149.2 176.70L1154.3 181.80L1149.2 186.90L1144.1000000000001 181.80Z" fill="#f7faf5" stroke="#3c403e" stroke-width="1.15"/><circle cx="1175.5" cy="181.80" r="4.0" fill="#f0f3ef" stroke="#5f6462" stroke-width="1.2"/><circle cx="1201.7" cy="181.80" r="4.0" fill="#f0f3ef" stroke="#5f6462" stroke-width="1.2"/><circle cx="1228.3" cy="181.80" r="4.0" fill="#fbfcfa" stroke="#5f6462" stroke-width="1.2"/><circle cx="1254.4" cy="181.80" r="4.0" fill="#fbfcfa" stroke="#5f6462" stroke-width="1.2"/><circle cx="1280.8" cy="181.80" r="4.0" fill="#f0f3ef" stroke="#5f6462" stroke-width="1.2"/><circle cx="1307.1" cy="181.80" r="4.0" fill="#f0f3ef" stroke="#5f6462" stroke-width="1.2"/><path d="M1149.2 192.65L1154.3 197.75L1149.2 202.85L1144.1000000000001 197.75Z" fill="#f7faf5" stroke="#3c403e" stroke-width="1.15"/><circle cx="1175.5" cy="197.75" r="4.0" fill="#f0f3ef" stroke="#5f6462" stroke-width="1.2"/><circle cx="1201.7" cy="197.75" r="4.0" fill="#f0f3ef" stroke="#5f6462" stroke-width="1.2"/><circle cx="1228.3" cy="197.75" r="4.0" fill="#f0f3ef" stroke="#5f6462" stroke-width="1.2"/><circle cx="1254.4" cy="197.75" r="3.75" fill="#eef2ec" stroke="#0a0a0a" stroke-width="2.5"/><circle cx="1280.8" cy="197.75" r="4.0" fill="#f0f3ef" stroke="#5f6462" stroke-width="1.2"/><circle cx="1307.1" cy="197.75" r="4.0" fill="#f0f3ef" stroke="#5f6462" stroke-width="1.2"/><path d="M1201.7 208.60L1206.8 213.70L1201.7 218.80L1196.6000000000001 213.70Z" fill="#f7faf5" stroke="#3c403e" stroke-width="1.15"/><circle cx="1228.3" cy="213.70" r="4.0" fill="#f0f3ef" stroke="#5f6462" stroke-width="1.2"/><circle cx="1254.4" cy="213.70" r="4.0" fill="#f0f3ef" stroke="#5f6462" stroke-width="1.2"/><circle cx="1280.8" cy="213.70" r="4.0" fill="#f0f3ef" stroke="#5f6462" stroke-width="1.2"/><circle cx="1307.1" cy="213.70" r="4.0" fill="#f0f3ef" stroke="#5f6462" stroke-width="1.2"/><path d="M1254.4 224.55L1259.5 229.65L1254.4 234.75L1249.3000000000002 229.65Z" fill="#f7faf5" stroke="#3c403e" stroke-width="1.15"/><circle cx="1280.8" cy="229.65" r="4.0" fill="#f0f3ef" stroke="#5f6462" stroke-width="1.2"/><circle cx="1307.1" cy="229.65" r="3.75" fill="#eef2ec" stroke="#0a0a0a" stroke-width="2.5"/><path d="M1254.4 240.50L1259.5 245.60L1254.4 250.70L1249.3000000000002 245.60Z" fill="#f7faf5" stroke="#3c403e" stroke-width="1.15"/><circle cx="1280.8" cy="245.60" r="3.75" fill="#eef2ec" stroke="#0a0a0a" stroke-width="2.5"/><circle cx="1307.1" cy="245.60" r="4.0" fill="#f0f3ef" stroke="#5f6462" stroke-width="1.2"/><path d="M1175.5 256.45L1180.6 261.55L1175.5 266.65L1170.4 261.55Z" fill="#f7faf5" stroke="#3c403e" stroke-width="1.15"/><circle cx="1201.7" cy="261.55" r="4.0" fill="#f0f3ef" stroke="#5f6462" stroke-width="1.2"/><circle cx="1228.3" cy="261.55" r="4.0" fill="#fbfcfa" stroke="#5f6462" stroke-width="1.2"/><circle cx="1254.4" cy="261.55" r="4.0" fill="#f0f3ef" stroke="#5f6462" stroke-width="1.2"/><circle cx="1280.8" cy="261.55" r="3.75" fill="#eef2ec" stroke="#0a0a0a" stroke-width="2.5"/><circle cx="1307.1" cy="261.55" r="4.0" fill="#f0f3ef" stroke="#5f6462" stroke-width="1.2"/><path d="M1201.7 272.40L1206.8 277.50L1201.7 282.60L1196.6000000000001 277.50Z" fill="#f7faf5" stroke="#3c403e" stroke-width="1.15"/><circle cx="1228.3" cy="277.50" r="3.75" fill="#eef2ec" stroke="#0a0a0a" stroke-width="2.5"/><circle cx="1254.4" cy="277.50" r="3.75" fill="#eef2ec" stroke="#0a0a0a" stroke-width="2.5"/><circle cx="1280.8" cy="277.50" r="4.0" fill="#f0f3ef" stroke="#5f6462" stroke-width="1.2"/><circle cx="1307.1" cy="277.50" r="4.0" fill="#f0f3ef" stroke="#5f6462" stroke-width="1.2"/><path d="M1280.8 288.35L1285.8999999999999 293.45L1280.8 298.55L1275.7 293.45Z" fill="#f7faf5" stroke="#3c403e" stroke-width="1.15"/><circle cx="1307.1" cy="293.45" r="3.75" fill="#eef2ec" stroke="#0a0a0a" stroke-width="2.5"/><path d="M1280.8 304.30L1285.8999999999999 309.40L1280.8 314.50L1275.7 309.40Z" fill="#f7faf5" stroke="#3c403e" stroke-width="1.15"/><circle cx="1307.1" cy="309.40" r="3.75" fill="#eef2ec" stroke="#0a0a0a" stroke-width="2.5"/><path d="M1307.1 320.25L1312.1999999999998 325.35L1307.1 330.45L1302.0 325.35Z" fill="#f7faf5" stroke="#3c403e" stroke-width="1.15"/><path d="M1307.1 336.20L1312.1999999999998 341.30L1307.1 346.40L1302.0 341.30Z" fill="#f7faf5" stroke="#3c403e" stroke-width="1.15"/><path d="M1307.1 352.15L1312.1999999999998 357.25L1307.1 362.35L1302.0 357.25Z" fill="#f7faf5" stroke="#3c403e" stroke-width="1.15"/><path d="M1307.1 368.10L1312.1999999999998 373.20L1307.1 378.30L1302.0 373.20Z" fill="#f7faf5" stroke="#3c403e" stroke-width="1.15"/><path d="M1307.1 384.05L1312.1999999999998 389.15L1307.1 394.25L1302.0 389.15Z" fill="#f7faf5" stroke="#3c403e" stroke-width="1.15"/><path d="M1307.1 431.90L1312.1999999999998 437.00L1307.1 442.10L1302.0 437.00Z" fill="#f7faf5" stroke="#3c403e" stroke-width="1.15"/><path d="M1307.1 479.75L1312.1999999999998 484.85L1307.1 489.95L1302.0 484.85Z" fill="#f7faf5" stroke="#3c403e" stroke-width="1.15"/><path d="M1307.1 495.70L1312.1999999999998 500.80L1307.1 505.90L1302.0 500.80Z" fill="#f7faf5" stroke="#3c403e" stroke-width="1.15"/><path d="M1280.8 447.85L1285.8999999999999 452.95L1280.8 458.05L1275.7 452.95Z" fill="#f7faf5" stroke="#3c403e" stroke-width="1.15"/><circle cx="1307.1" cy="452.95" r="3.75" fill="#eef2ec" stroke="#0a0a0a" stroke-width="2.5"/><circle cx="1307.1" cy="564.60" r="4.0" fill="#f0f3ef" stroke="#5f6462" stroke-width="1.2"/><rect x="1303.0" y="577.65" width="8.2" height="8.2" fill="#edf1ea" stroke="#62686a" stroke-width="1.3"/><circle cx="965.5" cy="341.30" r="4.2" fill="#fff" stroke="#ff1aff" stroke-width="3"/><line x1="78" x2="78" y1="587" y2="597.7" stroke="#a9b0ae" stroke-width="1.4"/><text transform="translate(82.5,615.5) rotate(-32)" font-size="14" text-anchor="middle" fill="#243049" font-family="Liberation Sans">&lt;bos&gt;</text><line x1="146.5" x2="146.5" y1="587" y2="597.7" stroke="#a9b0ae" stroke-width="1.4"/><text transform="translate(151.0,615.5) rotate(-32)" font-size="14" text-anchor="middle" fill="#243049" font-family="Liberation Sans">Fact</text><line x1="214.5" x2="214.5" y1="587" y2="597.7" stroke="#a9b0ae" stroke-width="1.4"/><text transform="translate(219.0,615.5) rotate(-32)" font-size="14" text-anchor="middle" fill="#243049" font-family="Liberation Sans">:</text><line x1="282.75" x2="282.75" y1="587" y2="597.7" stroke="#a9b0ae" stroke-width="1.4"/><text transform="translate(287.2,615.5) rotate(-32)" font-size="14" text-anchor="middle" fill="#243049" font-family="Liberation Sans">The</text><line x1="624.9" x2="624.9" y1="587" y2="597.7" stroke="#a9b0ae" stroke-width="1.4"/><text transform="translate(629.4,615.5) rotate(-32)" font-size="14" text-anchor="middle" fill="#243049" font-family="Liberation Sans">capital</text><line x1="692.3" x2="692.3" y1="587" y2="597.7" stroke="#a9b0ae" stroke-width="1.4"/><text transform="translate(696.8,615.5) rotate(-32)" font-size="14" text-anchor="middle" fill="#243049" font-family="Liberation Sans">of</text><line x1="727" x2="727" y1="587" y2="597.7" stroke="#a9b0ae" stroke-width="1.4"/><text transform="translate(731.5,615.5) rotate(-32)" font-size="14" text-anchor="middle" fill="#243049" font-family="Liberation Sans">the</text><line x1="795.3" x2="795.3" y1="587" y2="597.7" stroke="#a9b0ae" stroke-width="1.4"/><text transform="translate(799.8,615.5) rotate(-32)" font-size="14" text-anchor="middle" fill="#243049" font-family="Liberation Sans">state</text><line x1="897.4" x2="897.4" y1="587" y2="597.7" stroke="#a9b0ae" stroke-width="1.4"/><text transform="translate(901.9,615.5) rotate(-32)" font-size="14" text-anchor="middle" fill="#243049" font-family="Liberation Sans">containing</text><line x1="965.5" x2="965.5" y1="587" y2="597.7" stroke="#a9b0ae" stroke-width="1.4"/><text transform="translate(970.0,615.5) rotate(-32)" font-size="14" text-anchor="middle" fill="#243049" font-family="Liberation Sans">Dallas</text><line x1="1307.1" x2="1307.1" y1="587" y2="597.7" stroke="#a9b0ae" stroke-width="1.4"/><text transform="translate(1311.6,615.5) rotate(-32)" font-size="14" text-anchor="middle" fill="#243049" font-family="Liberation Sans">is</text><line x1="1070" x2="1070" y1="133" y2="140.3" stroke="#a9b0ae" stroke-width="1.4"/><line x1="1096.7" x2="1096.7" y1="133" y2="140.3" stroke="#a9b0ae" stroke-width="1.4"/><line x1="1122.8" x2="1122.8" y1="133" y2="140.3" stroke="#a9b0ae" stroke-width="1.4"/><line x1="1149.2" x2="1149.2" y1="133" y2="140.3" stroke="#a9b0ae" stroke-width="1.4"/><line x1="1175.5" x2="1175.5" y1="133" y2="140.3" stroke="#a9b0ae" stroke-width="1.4"/><line x1="1201.7" x2="1201.7" y1="133" y2="140.3" stroke="#a9b0ae" stroke-width="1.4"/><line x1="1228.3" x2="1228.3" y1="133" y2="140.3" stroke="#a9b0ae" stroke-width="1.4"/><line x1="1254.4" x2="1254.4" y1="133" y2="140.3" stroke="#a9b0ae" stroke-width="1.4"/><line x1="1280.8" x2="1280.8" y1="133" y2="140.3" stroke="#a9b0ae" stroke-width="1.4"/><line x1="1307.1" x2="1307.1" y1="133" y2="140.3" stroke="#a9b0ae" stroke-width="1.4"/><text transform="translate(1070.0,126.5) rotate(-35)" font-size="13.6" text-anchor="middle" fill="#243049" font-family="Liberation Sans">San</text><text transform="translate(1096.7,126.5) rotate(-35)" font-size="13.6" text-anchor="middle" fill="#243049" font-family="Liberation Sans">Oklahoma</text><text transform="translate(1149.2,126.5) rotate(-35)" font-size="13.6" text-anchor="middle" fill="#243049" font-family="Liberation Sans">Dallas</text><text transform="translate(1175.5,126.5) rotate(-35)" font-size="13.6" text-anchor="middle" fill="#243049" font-family="Liberation Sans">Houston</text><text transform="translate(1201.7,126.5) rotate(-35)" font-size="13.6" text-anchor="middle" fill="#243049" font-family="Liberation Sans">Fort</text><text transform="translate(1228.3,126.5) rotate(-35)" font-size="13.6" text-anchor="middle" fill="#243049" font-family="Liberation Sans">Texas</text><text transform="translate(1254.4,126.5) rotate(-35)" font-size="13.6" text-anchor="middle" fill="#243049" font-family="Liberation Sans">the</text><text transform="translate(1280.8,126.5) rotate(-35)" font-size="13.6" text-anchor="middle" fill="#243049" font-family="Liberation Sans">not</text><text transform="translate(1307.1,126.5) rotate(-35)" font-size="13.6" text-anchor="middle" fill="#243049" font-family="Liberation Sans">Austin</text></svg>
<div class="a" style="left:1350px;top:110px;width:551px;height:509px;background:#fff;border:1.5px solid #e3e8ef;border-radius:12px;box-shadow:0 1px 3px rgba(0,0,0,0.08)"></div>
<svg class="a" style="left:1360px;top:135px" width="20" height="20"><circle cx="10" cy="10" r="7.5" fill="none" stroke="#ff1aff" stroke-width="1.5"/></svg>
<div class="a" style="left:1390px;top:125px;font-size:16.9px;line-height:19.8px;color:#2a3344;-webkit-text-stroke:0.2px #2a3344">[Texas] mentions of Texas and the<br>surrounding area</div>
<div class="a" style="left:1690px;top:122px;width:157px;height:46px;background:#e2e7ef;border-radius:9px"></div>
<div class="a mono" style="left:1700px;top:128px;width:110px;text-align:center;font-size:13.3px;line-height:17.5px;color:#2a3344">LAYER 14<br>INDEX 2268</div>
<div class="a" style="left:1806px;top:135px"><svg width="21" height="21" viewBox="0 0 24 24" fill="none" stroke="#334155" stroke-width="2.1" stroke-linecap="round" stroke-linejoin="round"><path d="M15 3h6v6M10 14L21 3M18 13v6a2 2 0 0 1-2 2H5a2 2 0 0 1-2-2V8a2 2 0 0 1 2-2h6"/></svg></div>
<div class="a" style="left:1858px;top:121px;width:31px;height:31px;border-radius:50%;background:#e2e7ef;text-align:center;line-height:31px;font-size:15px;color:#1e293b">?</div>
<div class="a" style="left:1361px;top:181px;font-size:13.2px;color:#5e6878;-webkit-text-stroke:0.2px #5e6878">INPUT FEATURES (50)</div>
<div class="a" style="left:1625px;top:181px;font-size:13.2px;color:#5e6878;-webkit-text-stroke:0.2px #5e6878">OUTPUT FEATURES (44)</div>
<div class="a" style="left:1366px;top:200px;width:255px;height:403px;overflow:hidden">
<div class="frow" style="left:0.3px;top:4.2px;width:253.6px;height:26.7px;background:#3f9c56;color:#fff">
<svg class="a" style="left:9px;top:6px" width="16" height="16"><rect x="2.80" y="2.80" width="10.40" height="10.40" fill="none" stroke="#fff" stroke-width="2.2"/></svg>
<div class="t" style="top:5.5px">Emb: " Dallas"</div>
<div class="v" style="right:10.7px;top:3.5px">+26.94</div>
</div>
<div class="frow" style="left:0.3px;top:34.5px;width:253.6px;height:46.8px;background:#d6ebd2;color:#253041">
<svg class="a" style="left:9px;top:14px" width="16" height="16"><circle cx="8" cy="8" r="4.50" fill="none" stroke="#253041" stroke-width="2.2"/></svg>
<div class="t" style="top:5.5px;line-height:17.6px">[Texas] legal citations and<br>names of places in Texas</div>
<div class="v" style="right:10.7px;top:4px">+7.12</div>
<div class="v" style="right:10.7px;top:23px;width:40px;text-align:center">L7</div>
</div>
<div class="frow" style="left:0.3px;top:84.9px;width:253.6px;height:46.2px;background:#dbedd6;color:#253041">
<svg class="a" style="left:9px;top:14px" width="16" height="16"><circle cx="8" cy="8" r="4.50" fill="none" stroke="#253041" stroke-width="2.2"/></svg>
<div class="t" style="top:5.5px;line-height:17.6px">[Texas] court references<br>and legal terminology</div>
<div class="v" style="right:10.7px;top:4px">+5.73</div>
<div class="v" style="right:10.7px;top:23px;width:40px;text-align:center">L4</div>
</div>
<div class="frow" style="left:0.3px;top:135.0px;width:253.6px;height:46px;background:#e6eee4;color:#253041">
<svg class="a" style="left:9px;top:14px" width="16" height="16"><path d="M8 1.8L14.2 8L8 14.2L1.8 8Z" fill="none" stroke="#253041" stroke-width="1.15"/></svg>
<div class="t" style="top:14px">Err: mlp " Dallas"</div>
<div class="v" style="right:10.7px;top:4px">+1.64</div>
<div class="v" style="right:10.7px;top:23px;width:40px;text-align:center">L13</div>
</div>
<div class="frow" style="left:0.3px;top:184.5px;width:253.6px;height:27.2px;background:#eceeeb;color:#253041">
<svg class="a" style="left:9px;top:6px" width="16" height="16"><rect x="2.83" y="2.83" width="10.35" height="10.35" fill="none" stroke="#253041" stroke-width="1.15"/></svg>
<div class="t" style="top:5.5px">Emb: " of"</div>
<div class="v" style="right:10.7px;top:3.5px">+1.04</div>
<svg class="a" style="left:182px;top:9px" width="14" height="10"><path d="M13.5 5H1M5 1.5L1 5L5 8.5" fill="none" stroke="#253041" stroke-width="1.2"/></svg>
</div>
<div class="frow" style="left:0.3px;top:214.7px;width:253.6px;height:27.2px;background:#eceeeb;color:#253041">
<svg class="a" style="left:9px;top:6px" width="16" height="16"><rect x="2.80" y="2.80" width="10.40" height="10.40" fill="none" stroke="#253041" stroke-width="2.2"/></svg>
<div class="t" style="top:5.5px">Emb: " state"</div>
<div class="v" style="right:10.7px;top:3.5px">+0.66</div>
<svg class="a" style="left:182px;top:9px" width="14" height="10"><path d="M13.5 5H1M5 1.5L1 5L5 8.5" fill="none" stroke="#253041" stroke-width="1.2"/></svg>
</div>
<div class="frow" style="left:0.3px;top:244.9px;width:253.6px;height:27.2px;background:#eceeeb;color:#253041">
<svg class="a" style="left:9px;top:6px" width="16" height="16"><rect x="2.83" y="2.83" width="10.35" height="10.35" fill="none" stroke="#253041" stroke-width="1.15"/></svg>
<div class="t" style="top:5.5px">Emb: " Fact"</div>
<div class="v" style="right:10.7px;top:3.5px">+0.60</div>
<svg class="a" style="left:182px;top:9px" width="14" height="10"><path d="M13.5 5H1M5 1.5L1 5L5 8.5" fill="none" stroke="#253041" stroke-width="1.2"/></svg>
</div>
<div class="frow" style="left:0.3px;top:275.1px;width:253.6px;height:27.2px;background:#eceeeb;color:#253041">
<svg class="a" style="left:9px;top:6px" width="16" height="16"><rect x="2.83" y="2.83" width="10.35" height="10.35" fill="none" stroke="#253041" stroke-width="1.15"/></svg>
<div class="t" style="top:5.5px">Emb: " containing"</div>
<div class="v" style="right:10.7px;top:3.5px">+0.58</div>
<svg class="a" style="left:182px;top:9px" width="14" height="10"><path d="M13.5 5H1M5 1.5L1 5L5 8.5" fill="none" stroke="#253041" stroke-width="1.2"/></svg>
</div>
<div class="frow" style="left:0.3px;top:305.3px;width:253.6px;height:27.2px;background:#eceeeb;color:#253041">
<svg class="a" style="left:9px;top:6px" width="16" height="16"><rect x="2.83" y="2.83" width="10.35" height="10.35" fill="none" stroke="#253041" stroke-width="1.15"/></svg>
<div class="t" style="top:5.5px">Emb: " :"</div>
<div class="v" style="right:10.7px;top:3.5px">+0.50</div>
<svg class="a" style="left:182px;top:9px" width="14" height="10"><path d="M13.5 5H1M5 1.5L1 5L5 8.5" fill="none" stroke="#253041" stroke-width="1.2"/></svg>
</div>
<div class="frow" style="left:0.3px;top:335.5px;width:253.6px;height:27.2px;background:#eceeeb;color:#253041">
<svg class="a" style="left:9px;top:6px" width="16" height="16"><rect x="2.83" y="2.83" width="10.35" height="10.35" fill="none" stroke="#253041" stroke-width="1.15"/></svg>
<div class="t" style="top:5.5px">Emb: " The"</div>
<div class="v" style="right:10.7px;top:3.5px">+0.44</div>
<svg class="a" style="left:182px;top:9px" width="14" height="10"><path d="M13.5 5H1M5 1.5L1 5L5 8.5" fill="none" stroke="#253041" stroke-width="1.2"/></svg>
</div>
<div class="frow" style="left:0.3px;top:366.4px;width:253.6px;height:46px;background:#eceeeb;color:#253041">
<svg class="a" style="left:9px;top:14px" width="16" height="16"><circle cx="8" cy="8" r="4.62" fill="none" stroke="#253041" stroke-width="1.15"/></svg>
<div class="t" style="top:5.5px;line-height:17.6px">names of places located<br>in Europe</div>
<div class="v" style="right:10.7px;top:4px">+0.37</div>
<div class="v" style="right:10.7px;top:23px;width:40px;text-align:center">L0</div>
</div>
</div>
<div class="frow" style="left:1631px;top:204.2px;width:253.3px;height:46.8px;background:#d3ebcc">
<svg class="a" style="left:8.7px;top:14.5px" width="16" height="16"><circle cx="8" cy="8" r="4.50" fill="none" stroke="#1e293b" stroke-width="2.2"/></svg>
<div class="t" style="top:6px;line-height:17.6px">[Texas] Texas legal<br>documents</div>
<div class="v" style="right:11px;top:3.5px">+20.30</div>
<div class="v" style="right:15.2px;top:23px;width:40px;text-align:center">L16</div>
</div>
<div class="frow" style="left:1631px;top:254.2px;width:253.3px;height:46.8px;background:#d8edd2">
<svg class="a" style="left:8.7px;top:14.5px" width="16" height="16"><circle cx="8" cy="8" r="4.50" fill="none" stroke="#1e293b" stroke-width="2.2"/></svg>
<div class="t" style="top:15px">[Texas] Texas</div>
<div class="v" style="right:11px;top:3.5px">+20.02</div>
<div class="v" style="right:15.2px;top:23px;width:40px;text-align:center">L20</div>
</div>
<div class="frow" style="left:1631px;top:304.1px;width:253.3px;height:46.8px;background:#d8edd2">
<svg class="a" style="left:8.7px;top:14.5px" width="16" height="16"><circle cx="8" cy="8" r="4.50" fill="none" stroke="#1e293b" stroke-width="2.2"/></svg>
<div class="t" style="top:15px">[Texas] Dallas</div>
<div class="v" style="right:11px;top:3.5px">+15.62</div>
<div class="v" style="right:15.2px;top:23px;width:40px;text-align:center">L19</div>
</div>
<div class="frow" style="left:1631px;top:354.1px;width:253.3px;height:46.8px;background:#e2efdd">
<svg class="a" style="left:8.7px;top:14.5px" width="16" height="16"><circle cx="8" cy="8" r="4.50" fill="none" stroke="#1e293b" stroke-width="2.2"/></svg>
<div class="t" style="top:15px">Texas</div>
<div class="v" style="right:11px;top:3.5px">+14.25</div>
<div class="v" style="right:15.2px;top:23px;width:40px;text-align:center">L20</div>
<svg class="a" style="left:172.0px;top:19.4px" width="14" height="10"><path d="M0.5 5H13M9 1.5L13 5L9 8.5" fill="none" stroke="#1e293b" stroke-width="1.2"/></svg>
</div>
<div class="frow" style="left:1631px;top:404.1px;width:253.3px;height:46.8px;background:#e2efdd">
<svg class="a" style="left:8.7px;top:14.5px" width="16" height="16"><circle cx="8" cy="8" r="4.62" fill="none" stroke="#1e293b" stroke-width="1.15"/></svg>
<div class="t" style="top:15px">Dallas</div>
<div class="v" style="right:11px;top:3.5px">+10.78</div>
<div class="v" style="right:15.2px;top:23px;width:40px;text-align:center">L19</div>
<svg class="a" style="left:172.0px;top:19.4px" width="14" height="10"><path d="M0.5 5H13M9 1.5L13 5L9 8.5" fill="none" stroke="#1e293b" stroke-width="1.2"/></svg>
</div>
<div class="frow" style="left:1631px;top:454.0px;width:253.3px;height:46.8px;background:#e4f0e0">
<svg class="a" style="left:8.7px;top:14.5px" width="16" height="16"><circle cx="8" cy="8" r="4.62" fill="none" stroke="#1e293b" stroke-width="1.15"/></svg>
<div class="t" style="top:15px">in</div>
<div class="v" style="right:11px;top:3.5px">+8.93</div>
<div class="v" style="right:11.1px;top:23px;width:40px;text-align:center">L24</div>
<svg class="a" style="left:180.05px;top:19.4px" width="14" height="10"><path d="M0.5 5H13M9 1.5L13 5L9 8.5" fill="none" stroke="#1e293b" stroke-width="1.2"/></svg>
</div>
<div class="frow" style="left:1631px;top:504.0px;width:253.3px;height:46.8px;background:#e4f0e0">
<svg class="a" style="left:8.7px;top:14.5px" width="16" height="16"><circle cx="8" cy="8" r="4.62" fill="none" stroke="#1e293b" stroke-width="1.15"/></svg>
<div class="t" style="top:15px">Texas/Dallas</div>
<div class="v" style="right:11px;top:3.5px">+8.16</div>
<div class="v" style="right:11.1px;top:23px;width:40px;text-align:center">L22</div>
<svg class="a" style="left:180.05px;top:19.4px" width="14" height="10"><path d="M0.5 5H13M9 1.5L13 5L9 8.5" fill="none" stroke="#1e293b" stroke-width="1.2"/></svg>
</div>
<div class="frow" style="left:1631px;top:554.0px;width:253.3px;height:46.8px;background:#e4f0e0">
<svg class="a" style="left:8.7px;top:14.5px" width="16" height="16"><circle cx="8" cy="8" r="4.62" fill="none" stroke="#1e293b" stroke-width="1.15"/></svg>
<div class="t" style="top:15px">Texas</div>
<div class="v" style="right:11px;top:3.5px">+8.15</div>
<div class="v" style="right:11.1px;top:23px;width:40px;text-align:center">L25</div>
<svg class="a" style="left:180.05px;top:19.4px" width="14" height="10"><path d="M0.5 5H13M9 1.5L13 5L9 8.5" fill="none" stroke="#1e293b" stroke-width="1.2"/></svg>
</div>
<div class="a" style="left:20px;top:636px;width:996.5px;height:521.5px;background:#fff;border:1.5px solid #e3e8ef;border-radius:14px;box-shadow:0 1px 3px rgba(0,0,0,0.1)"></div>
<div class="tb" style="left:37px;color:#5d6a7e"><svg class="a" style="left:11.5px;top:7px" width="24" height="24" viewBox="0 0 24 24" fill="none" stroke="#5d6a7e" stroke-width="1.9" stroke-linecap="round" stroke-linejoin="round"><circle cx="12" cy="12" r="9.5"/><path d="M9.2 9.2a2.9 2.9 0 0 1 5.6 1c0 1.9-2.8 2.6-2.8 2.6"/><path d="M12 17h.01" stroke-width="2.4"/></svg><span>Help</span></div>
<div class="tb" style="left:92.5px;color:#5d6a7e"><svg class="a" style="left:11.5px;top:7px" width="24" height="24" viewBox="0 0 24 24" fill="none" stroke="#5d6a7e" stroke-width="1.9" stroke-linecap="round" stroke-linejoin="round"><path d="M6 14l1.5-2.9A2 2 0 0 1 9.24 10H20a2 2 0 0 1 1.94 2.5l-1.54 6a2 2 0 0 1-1.95 1.5H4a2 2 0 0 1-2-2V5a2 2 0 0 1 2-2h3.9a2 2 0 0 1 1.69.9l.81 1.2a2 2 0 0 0 1.67.9H18a2 2 0 0 1 2 2v2"/></svg><span>Load</span></div>
<div class="tb" style="left:147.7px;color:#5d6a7e"><svg class="a" style="left:11.5px;top:7px" width="24" height="24" viewBox="0 0 24 24" fill="none" stroke="#5d6a7e" stroke-width="1.9" stroke-linecap="round" stroke-linejoin="round"><path d="M19 21H5a2 2 0 0 1-2-2V5a2 2 0 0 1 2-2h11l5 5v11a2 2 0 0 1-2 2z"/><path d="M17 21v-8H7v8M7 3v5h8"/></svg><span>Save</span></div>
<div class="tb" style="left:203px;color:#5d6a7e"><svg class="a" style="left:11.5px;top:7px" width="24" height="24" viewBox="0 0 24 24" fill="none" stroke="#5d6a7e" stroke-width="1.9" stroke-linecap="round" stroke-linejoin="round"><circle cx="18" cy="5" r="3"/><circle cx="6" cy="12" r="3"/><circle cx="18" cy="19" r="3"/><path d="M8.6 13.5l6.8 4M15.4 6.5l-6.8 4"/></svg><span>Share</span></div>
<div class="tb" style="left:258px;color:#f4622a"><svg class="a" style="left:11.5px;top:7px" width="24" height="24" viewBox="0 0 24 24" fill="none" stroke="#f4622a" stroke-width="1.9" stroke-linecap="round" stroke-linejoin="round"><path d="M3 6h18M19 6v14c0 1-1 2-2 2H7c-1 0-2-1-2-2V6M8 6V4c0-1 1-2 2-2h4c1 0 2 1 2 2v2"/></svg><span>Clear</span></div>
<div class="a" style="left:887px;top:653px;width:113px;height:58px;background:#e1f0fc;border:1.9px solid #2f7bc9;border-radius:7px"></div>
<svg class="a" style="left:927px;top:663px" width="20" height="20" viewBox="0 0 24 24" fill="none" stroke="#1f4f8f" stroke-width="2.2" stroke-linecap="round" stroke-linejoin="round"><path d="M12 17v5M15 9.34V7a1 1 0 0 1 1-1 2 2 0 0 0 0-4H7.89M2 2l20 20M9 9v1.76a2 2 0 0 1-1.11 1.79l-1.78.9A2 2 0 0 0 5 15.24V16a1 1 0 0 0 1 1h11"/></svg>
<svg class="a" style="left:944px;top:665px" width="18" height="18"><circle cx="8.5" cy="8.5" r="6.3" fill="none" stroke="#ff1aff" stroke-width="2"/></svg>
<div class="a" style="left:887px;top:686.5px;width:113px;text-align:center;font-size:12.6px;font-weight:bold;color:#1d5fa6">Unpin Node</div>
<div class="a" style="left:887px;top:722px;width:113px;height:58px;background:#e1f0fc;border:1.9px solid #2f7bc9;border-radius:7px"></div>
<svg class="a" style="left:924px;top:732px" width="40" height="20" viewBox="0 0 40 20" fill="none"><rect x="1" y="1" width="37" height="17.5" rx="4" fill="#e3e8f0" stroke="#8d98a8" stroke-width="1.4"/><circle cx="10.7" cy="9.75" r="4.2" fill="#fff" stroke="#111" stroke-width="1.9"/><circle cx="19.5" cy="9.75" r="4.2" fill="#fff" stroke="#111" stroke-width="1.9"/><circle cx="28.3" cy="9.75" r="4.2" fill="#fff" stroke="#111" stroke-width="1.9"/></svg>
<div class="a" style="left:887px;top:755.5px;width:113px;text-align:center;font-size:12.6px;font-weight:bold;color:#1d5fa6">Grouping Mode</div>
<svg class="a" style="left:0;top:0" width="1020" height="1167"><line x1="581.6" y1="746.4" x2="754" y2="799" stroke="#dcdedf" stroke-width="1.2"/><line x1="581.6" y1="746.4" x2="652.2" y2="822.2" stroke="#dcdedf" stroke-width="1.2"/><line x1="581.6" y1="746.4" x2="723.5" y2="898.5" stroke="#dcdedf" stroke-width="1.2"/><line x1="581.6" y1="746.4" x2="622" y2="921.6" stroke="#dcdedf" stroke-width="1.2"/><line x1="581.6" y1="746.4" x2="460.4" y2="962.7" stroke="#dcdedf" stroke-width="1.2"/><line x1="581.6" y1="746.4" x2="556.8" y2="1002.8" stroke="#dcdedf" stroke-width="1.2"/><line x1="581.6" y1="746.4" x2="731.2" y2="1029.1" stroke="#dcdedf" stroke-width="1.2"/><line x1="581.6" y1="746.4" x2="474.1" y2="1065.6" stroke="#dcdedf" stroke-width="1.2"/><line x1="581.6" y1="746.4" x2="635.3" y2="1069.5" stroke="#dcdedf" stroke-width="1.2"/><line x1="682.9" y1="722.8" x2="652.2" y2="822.2" stroke="#dcdedf" stroke-width="1.2"/><line x1="682.9" y1="722.8" x2="723.5" y2="898.5" stroke="#dcdedf" stroke-width="1.2"/><line x1="682.9" y1="722.8" x2="622" y2="921.6" stroke="#dcdedf" stroke-width="1.2"/><line x1="682.9" y1="722.8" x2="460.4" y2="962.7" stroke="#dcdedf" stroke-width="1.2"/><line x1="682.9" y1="722.8" x2="556.8" y2="1002.8" stroke="#dcdedf" stroke-width="1.2"/><line x1="682.9" y1="722.8" x2="731.2" y2="1029.1" stroke="#dcdedf" stroke-width="1.2"/><line x1="682.9" y1="722.8" x2="474.1" y2="1065.6" stroke="#dcdedf" stroke-width="1.2"/><line x1="682.9" y1="722.8" x2="635.3" y2="1069.5" stroke="#dcdedf" stroke-width="1.2"/><line x1="754" y1="799" x2="652.2" y2="822.2" stroke="#dcdedf" stroke-width="1.2"/><line x1="754" y1="799" x2="723.5" y2="898.5" stroke="#dcdedf" stroke-width="1.2"/><line x1="754" y1="799" x2="622" y2="921.6" stroke="#dcdedf" stroke-width="1.2"/><line x1="754" y1="799" x2="460.4" y2="962.7" stroke="#dcdedf" stroke-width="1.2"/><line x1="754" y1="799" x2="556.8" y2="1002.8" stroke="#d3e8cc" stroke-width="1.2"/><line x1="754" y1="799" x2="731.2" y2="1029.1" stroke="#d3e8cc" stroke-width="1.2"/><line x1="754" y1="799" x2="474.1" y2="1065.6" stroke="#d3e8cc" stroke-width="1.2"/><line x1="754" y1="799" x2="635.3" y2="1069.5" stroke="#dcdedf" stroke-width="1.2"/><line x1="652.2" y1="822.2" x2="550.8" y2="845.8" stroke="#dcdedf" stroke-width="1.2"/><line x1="652.2" y1="822.2" x2="723.5" y2="898.5" stroke="#dcdedf" stroke-width="1.2"/><line x1="652.2" y1="822.2" x2="622" y2="921.6" stroke="#dcdedf" stroke-width="1.2"/><line x1="652.2" y1="822.2" x2="460.4" y2="962.7" stroke="#dcdedf" stroke-width="1.2"/><line x1="652.2" y1="822.2" x2="556.8" y2="1002.8" stroke="#dcdedf" stroke-width="1.2"/><line x1="652.2" y1="822.2" x2="731.2" y2="1029.1" stroke="#dcdedf" stroke-width="1.2"/><line x1="652.2" y1="822.2" x2="474.1" y2="1065.6" stroke="#dcdedf" stroke-width="1.2"/><line x1="652.2" y1="822.2" x2="635.3" y2="1069.5" stroke="#d3e8cc" stroke-width="1.2"/><line x1="550.8" y1="845.8" x2="723.5" y2="898.5" stroke="#dcdedf" stroke-width="1.2"/><line x1="550.8" y1="845.8" x2="622" y2="921.6" stroke="#dcdedf" stroke-width="1.2"/><line x1="550.8" y1="845.8" x2="460.4" y2="962.7" stroke="#dcdedf" stroke-width="1.2"/><line x1="550.8" y1="845.8" x2="556.8" y2="1002.8" stroke="#dcdedf" stroke-width="1.2"/><line x1="550.8" y1="845.8" x2="731.2" y2="1029.1" stroke="#dcdedf" stroke-width="1.2"/><line x1="550.8" y1="845.8" x2="474.1" y2="1065.6" stroke="#dcdedf" stroke-width="1.2"/><line x1="550.8" y1="845.8" x2="635.3" y2="1069.5" stroke="#dcdedf" stroke-width="1.2"/><line x1="723.5" y1="898.5" x2="622" y2="921.6" stroke="#dcdedf" stroke-width="1.2"/><line x1="723.5" y1="898.5" x2="460.4" y2="962.7" stroke="#dcdedf" stroke-width="1.2"/><line x1="723.5" y1="898.5" x2="556.8" y2="1002.8" stroke="#d3e8cc" stroke-width="1.2"/><line x1="723.5" y1="898.5" x2="731.2" y2="1029.1" stroke="#dcdedf" stroke-width="1.2"/><line x1="723.5" y1="898.5" x2="474.1" y2="1065.6" stroke="#dcdedf" stroke-width="1.2"/><line x1="723.5" y1="898.5" x2="635.3" y2="1069.5" stroke="#dcdedf" stroke-width="1.2"/><line x1="622" y1="921.6" x2="460.4" y2="962.7" stroke="#dcdedf" stroke-width="1.2"/><line x1="622" y1="921.6" x2="556.8" y2="1002.8" stroke="#dcdedf" stroke-width="1.2"/><line x1="622" y1="921.6" x2="731.2" y2="1029.1" stroke="#dcdedf" stroke-width="1.2"/><line x1="622" y1="921.6" x2="474.1" y2="1065.6" stroke="#dcdedf" stroke-width="1.2"/><line x1="622" y1="921.6" x2="635.3" y2="1069.5" stroke="#dcdedf" stroke-width="1.2"/><line x1="460.4" y1="962.7" x2="556.8" y2="1002.8" stroke="#dcdedf" stroke-width="1.2"/><line x1="460.4" y1="962.7" x2="474.1" y2="1065.6" stroke="#dcdedf" stroke-width="1.2"/><line x1="460.4" y1="962.7" x2="635.3" y2="1069.5" stroke="#dcdedf" stroke-width="1.2"/><line x1="556.8" y1="1002.8" x2="474.1" y2="1065.6" stroke="#dcdedf" stroke-width="1.2"/><line x1="556.8" y1="1002.8" x2="635.3" y2="1069.5" stroke="#dcdedf" stroke-width="1.2"/><line x1="451" y1="972" x2="472" y2="1056" stroke="#3d6a47" stroke-width="6.8"/><line x1="552" y1="1012" x2="634" y2="1058" stroke="#3d6a47" stroke-width="7.5"/><line x1="628" y1="928" x2="730" y2="1026" stroke="#62a86e" stroke-width="4.8"/><rect x="568.9" y="733.9" width="25.5" height="25" rx="5" fill="#e3e8f0" stroke="#97a2b2" stroke-width="1.3"/><circle cx="581.6" cy="746.4" r="4.9" fill="#f4f6f9" stroke="#0c0c0c" stroke-width="2"/><rect x="670.1" y="710.3" width="25.5" height="25" rx="5" fill="#e3e8f0" stroke="#97a2b2" stroke-width="1.3"/><rect x="677.7" y="717.6" width="10.4" height="10.4" fill="none" stroke="#0c0c0c" stroke-width="2"/><rect x="741.2" y="786.5" width="25.5" height="25" rx="5" fill="#e3e8f0" stroke="#97a2b2" stroke-width="1.3"/><circle cx="754.0" cy="799" r="4.9" fill="#f4f6f9" stroke="#0c0c0c" stroke-width="2"/><rect x="639.5" y="809.7" width="25.5" height="25" rx="5" fill="#e3e8f0" stroke="#97a2b2" stroke-width="1.3"/><circle cx="652.2" cy="822.2" r="4.9" fill="#f4f6f9" stroke="#0c0c0c" stroke-width="2"/><rect x="532.3" y="833.3" width="37" height="25" rx="5" fill="#e3e8f0" stroke="#97a2b2" stroke-width="1.3"/><circle cx="544.8" cy="845.8" r="4.9" fill="#f4f6f9" stroke="#0c0c0c" stroke-width="2"/><circle cx="556.8" cy="845.8" r="4.9" fill="#f4f6f9" stroke="#0c0c0c" stroke-width="2"/><rect x="693.3" y="886.0" width="60.4" height="25" rx="5" fill="#e3e8f0" stroke="#97a2b2" stroke-width="1.3"/><circle cx="706.1" cy="898.5" r="4.9" fill="#f4f6f9" stroke="#0c0c0c" stroke-width="2"/><circle cx="717.7" cy="898.5" r="4.9" fill="#f4f6f9" stroke="#0c0c0c" stroke-width="2"/><circle cx="729.3" cy="898.5" r="4.9" fill="#f4f6f9" stroke="#0c0c0c" stroke-width="2"/><circle cx="740.9" cy="898.5" r="4.9" fill="#f4f6f9" stroke="#0c0c0c" stroke-width="2"/><rect x="592.2" y="909.1" width="59.6" height="25" rx="5" fill="#e3e8f0" stroke="#97a2b2" stroke-width="1.3"/><circle cx="605.6" cy="921.6" r="4.9" fill="#f4f6f9" stroke="#0c0c0c" stroke-width="2"/><circle cx="613.8" cy="921.6" r="4.9" fill="#f4f6f9" stroke="#0c0c0c" stroke-width="2"/><circle cx="622.0" cy="921.6" r="4.9" fill="#f4f6f9" stroke="#0c0c0c" stroke-width="2"/><circle cx="630.2" cy="921.6" r="4.9" fill="#f4f6f9" stroke="#ff1aff" stroke-width="2"/><circle cx="638.4" cy="921.6" r="4.9" fill="#f4f6f9" stroke="#0c0c0c" stroke-width="2"/><rect x="430.6" y="950.2" width="59.6" height="25" rx="5" fill="#e3e8f0" stroke="#97a2b2" stroke-width="1.3"/><circle cx="444.0" cy="962.7" r="4.9" fill="#f4f6f9" stroke="#0c0c0c" stroke-width="2"/><circle cx="452.2" cy="962.7" r="4.9" fill="#f4f6f9" stroke="#0c0c0c" stroke-width="2"/><circle cx="460.4" cy="962.7" r="4.9" fill="#f4f6f9" stroke="#0c0c0c" stroke-width="2"/><circle cx="468.6" cy="962.7" r="4.9" fill="#f4f6f9" stroke="#0c0c0c" stroke-width="2"/><circle cx="476.8" cy="962.7" r="4.9" fill="#f4f6f9" stroke="#0c0c0c" stroke-width="2"/><rect x="538.3" y="990.3" width="37" height="25" rx="5" fill="#e3e8f0" stroke="#97a2b2" stroke-width="1.3"/><circle cx="550.8" cy="1002.8" r="4.9" fill="#f4f6f9" stroke="#0c0c0c" stroke-width="2"/><circle cx="562.8" cy="1002.8" r="4.9" fill="#f4f6f9" stroke="#0c0c0c" stroke-width="2"/><rect x="718.5" y="1016.6" width="25.5" height="25" rx="5" fill="#e3e8f0" stroke="#97a2b2" stroke-width="1.3"/><rect x="726.0" y="1023.9" width="10.4" height="10.4" fill="none" stroke="#0c0c0c" stroke-width="2"/><rect x="461.4" y="1053.1" width="25.5" height="25" rx="5" fill="#e3e8f0" stroke="#97a2b2" stroke-width="1.3"/><rect x="468.9" y="1060.4" width="10.4" height="10.4" fill="none" stroke="#0c0c0c" stroke-width="2"/><rect x="622.5" y="1057.0" width="25.5" height="25" rx="5" fill="#e3e8f0" stroke="#97a2b2" stroke-width="1.3"/><rect x="630.1" y="1064.3" width="10.4" height="10.4" fill="none" stroke="#0c0c0c" stroke-width="2"/><text x="581.6" y="775.9" font-size="14" text-anchor="middle" fill="#1e293b" stroke="#fff" stroke-width="3.5" paint-order="stroke" stroke-linejoin="round" font-family="Liberation Sans">Cities and</text><text x="581.6" y="791.9" font-size="14" text-anchor="middle" fill="#1e293b" stroke="#fff" stroke-width="3.5" paint-order="stroke" stroke-linejoin="round" font-family="Liberation Sans">states names</text><text x="581.6" y="807.9" font-size="14" text-anchor="middle" fill="#1e293b" stroke="#fff" stroke-width="3.5" paint-order="stroke" stroke-linejoin="round" font-family="Liberation Sans">(say Austin)</text><text x="682.9" y="752.3" font-size="14" text-anchor="middle" fill="#1e293b" stroke="#fff" stroke-width="3.5" paint-order="stroke" stroke-linejoin="round" font-family="Liberation Sans">Output "</text><text x="682.9" y="768.3" font-size="14" text-anchor="middle" fill="#1e293b" stroke="#fff" stroke-width="3.5" paint-order="stroke" stroke-linejoin="round" font-family="Liberation Sans">Austin"</text><text x="682.9" y="784.3" font-size="14" text-anchor="middle" fill="#1e293b" stroke="#fff" stroke-width="3.5" paint-order="stroke" stroke-linejoin="round" font-family="Liberation Sans">(p=0.450)</text><text x="754" y="828.5" font-size="14" text-anchor="middle" fill="#1e293b" stroke="#fff" stroke-width="3.5" paint-order="stroke" stroke-linejoin="round" font-family="Liberation Sans">Texas</text><text x="652.2" y="851.7" font-size="14" text-anchor="middle" fill="#1e293b" stroke="#fff" stroke-width="3.5" paint-order="stroke" stroke-linejoin="round" font-family="Liberation Sans">state/regional</text><text x="652.2" y="867.7" font-size="14" text-anchor="middle" fill="#1e293b" stroke="#fff" stroke-width="3.5" paint-order="stroke" stroke-linejoin="round" font-family="Liberation Sans">government</text><text x="550.8" y="875.3" font-size="14" text-anchor="middle" fill="#1e293b" stroke="#fff" stroke-width="3.5" paint-order="stroke" stroke-linejoin="round" font-family="Liberation Sans">preposition</text><text x="550.8" y="891.3" font-size="14" text-anchor="middle" fill="#1e293b" stroke="#fff" stroke-width="3.5" paint-order="stroke" stroke-linejoin="round" font-family="Liberation Sans">followed by</text><text x="550.8" y="907.3" font-size="14" text-anchor="middle" fill="#1e293b" stroke="#fff" stroke-width="3.5" paint-order="stroke" stroke-linejoin="round" font-family="Liberation Sans">place name</text><text x="723.5" y="928.0" font-size="14" text-anchor="middle" fill="#1e293b" stroke="#fff" stroke-width="3.5" paint-order="stroke" stroke-linejoin="round" font-family="Liberation Sans">capital</text><text x="723.5" y="944.0" font-size="14" text-anchor="middle" fill="#1e293b" stroke="#fff" stroke-width="3.5" paint-order="stroke" stroke-linejoin="round" font-family="Liberation Sans">cities/say a</text><text x="723.5" y="960.0" font-size="14" text-anchor="middle" fill="#1e293b" stroke="#fff" stroke-width="3.5" paint-order="stroke" stroke-linejoin="round" font-family="Liberation Sans">capital city</text><text x="622" y="951.1" font-size="14" text-anchor="middle" fill="#1e293b" stroke="#fff" stroke-width="3.5" paint-order="stroke" stroke-linejoin="round" font-family="Liberation Sans">Texas</text><text x="460.4" y="992.2" font-size="14" text-anchor="middle" fill="#1e293b" stroke="#fff" stroke-width="3.5" paint-order="stroke" stroke-linejoin="round" font-family="Liberation Sans">capital</text><text x="556.8" y="1032.3" font-size="14" text-anchor="middle" fill="#1e293b" stroke="#fff" stroke-width="3.5" paint-order="stroke" stroke-linejoin="round" font-family="Liberation Sans">state</text><text x="731.2" y="1058.6" font-size="14" text-anchor="middle" fill="#1e293b" stroke="#fff" stroke-width="3.5" paint-order="stroke" stroke-linejoin="round" font-family="Liberation Sans">Emb: " Dallas"</text><text x="474.1" y="1095.1" font-size="14" text-anchor="middle" fill="#1e293b" stroke="#fff" stroke-width="3.5" paint-order="stroke" stroke-linejoin="round" font-family="Liberation Sans">Emb: " capital"</text><text x="635.3" y="1099.0" font-size="14" text-anchor="middle" fill="#1e293b" stroke="#fff" stroke-width="3.5" paint-order="stroke" stroke-linejoin="round" font-family="Liberation Sans">Emb: " state"</text></svg>
<svg class="a" style="left:1032px;top:649px" width="20" height="20"><circle cx="10" cy="10" r="7.5" fill="none" stroke="#ff1aff" stroke-width="1.5"/></svg>
<div class="a" style="left:1062px;top:649px;font-size:17px;color:#2a3344;-webkit-text-stroke:0.2px #2a3344">[Texas] mentions of Texas and the surrounding area</div>
<div class="a" style="left:1606px;top:645px;width:85px;height:29px;background:#fff;border:1px solid #dfe4ea;border-radius:4px;text-align:center;line-height:27px;font-size:13.6px;color:#1e293b">Edit Label</div>
<div class="a" style="left:1704px;top:636px;width:158px;height:47px;background:#e2e7ef;border-radius:9px"></div>
<div class="a mono" style="left:1712px;top:643px;width:115px;text-align:center;font-size:13.3px;line-height:17.5px;color:#2a3344">LAYER 14<br>INDEX 2268</div>
<div class="a" style="left:1820px;top:649px"><svg width="21" height="21" viewBox="0 0 24 24" fill="none" stroke="#334155" stroke-width="2.1" stroke-linecap="round" stroke-linejoin="round"><path d="M15 3h6v6M10 14L21 3M18 13v6a2 2 0 0 1-2 2H5a2 2 0 0 1-2-2V8a2 2 0 0 1 2-2h6"/></svg></div>
<div class="a" style="left:1870px;top:636px;width:31px;height:31px;border-radius:50%;background:#e2e7ef;text-align:center;line-height:31px;font-size:15px;color:#1e293b">?</div>
<div class="a" style="left:1033.3px;top:694.5px;width:868px;height:462.5px;background:#fff;border:1.5px solid #e3e8ef;border-radius:12px;overflow:hidden;box-shadow:0 1px 3px rgba(0,0,0,0.08)">
</div>
<div class="a" style="left:1056px;top:710px;font-size:13px;color:#9aa3b0">NEGATIVE LOGITS</div>
<svg class="a" style="left:1177px;top:709px" width="13" height="13" viewBox="0 0 14 14"><circle cx="7" cy="7" r="6" fill="none" stroke="#9aa3b0" stroke-width="1"/><text x="7" y="10.5" font-size="9" text-anchor="middle" fill="#9aa3b0" font-family="Liberation Sans">?</text></svg>
<div class="a" style="left:1263px;top:710px;font-size:13px;color:#9aa3b0">POSITIVE LOGITS</div>
<svg class="a" style="left:1380px;top:709px" width="13" height="13" viewBox="0 0 14 14"><circle cx="7" cy="7" r="6" fill="none" stroke="#9aa3b0" stroke-width="1"/><text x="7" y="10.5" font-size="9" text-anchor="middle" fill="#9aa3b0" font-family="Liberation Sans">?</text></svg>
<div class="a" style="left:1520px;top:709px;width:300px;text-align:center;font-size:14.8px;color:#465366;-webkit-text-stroke:0.2px #465366">ACTIVATIONS DENSITY 1.602%</div>
<svg class="a" style="left:1864px;top:709px" width="15" height="15" viewBox="0 0 14 14"><circle cx="7" cy="7" r="6" fill="none" stroke="#9aa3b0" stroke-width="1"/><text x="7" y="10.5" font-size="9" text-anchor="middle" fill="#9aa3b0" font-family="Liberation Sans">?</text></svg>
<div class="lg" style="left:1056px;top:733.0px;width:89px;background:#f58b86;white-space:pre;overflow:hidden">ValueStyle</div>
<div class="lv" style="left:1168px;top:734.5px">&minus;0.92</div>
<div class="lg" style="left:1056px;top:756.5px;width:80px;background:#f58b86;white-space:pre;overflow:hidden"> Numerade</div>
<div class="lv" style="left:1168px;top:758.0px">&minus;0.85</div>
<div class="lg" style="left:1056px;top:780.1px;width:70px;background:#f58b86;white-space:pre;overflow:hidden"> تضيفلها</div>
<div class="lv" style="left:1168px;top:781.6px">&minus;0.81</div>
<div class="lg" style="left:1056px;top:803.6px;width:80px;background:#f58b86;white-space:pre;overflow:hidden">sizeCache</div>
<div class="lv" style="left:1168px;top:805.1px">&minus;0.81</div>
<div class="lg" style="left:1056px;top:827.2px;width:41px;background:#f58b86;white-space:pre;overflow:hidden">出版年</div>
<div class="lv" style="left:1168px;top:828.7px">&minus;0.81</div>
<div class="lg" style="left:1263px;top:733.0px;width:53px;background:#a9a8f5;white-space:pre"> Texas</div>
<div class="lv" style="left:1374px;top:734.5px">0.64</div>
<div class="lg" style="left:1263px;top:756.5px;width:53px;background:#a9a8f5;white-space:pre"> Texan</div>
<div class="lv" style="left:1374px;top:758.0px">0.60</div>
<div class="lg" style="left:1263px;top:780.1px;width:45px;background:#a9a8f5;white-space:pre">Texas</div>
<div class="lv" style="left:1374px;top:781.6px">0.59</div>
<div class="lg" style="left:1263px;top:803.6px;width:62px;background:#a9a8f5;white-space:pre"> Texans</div>
<div class="lv" style="left:1374px;top:805.1px">0.54</div>
<div class="lg" style="left:1263px;top:827.2px;width:62px;background:#a9a8f5;white-space:pre"> Dallas</div>
<div class="lv" style="left:1374px;top:828.7px">0.54</div>
<div class="a" style="left:1035px;top:851.5px;width:865px;height:23px;background:#f8faf6"></div>
<svg class="a" style="left:1460px;top:720px" width="440" height="150" font-family="Liberation Sans"><line x1="40.200000000000045" x2="419.79999999999995" y1="15.100000000000023" y2="15.100000000000023" stroke="#dcdfe4" stroke-width="1"/><line x1="40.200000000000045" x2="419.79999999999995" y1="25.5" y2="25.5" stroke="#dcdfe4" stroke-width="1"/><line x1="40.200000000000045" x2="419.79999999999995" y1="36" y2="36" stroke="#dcdfe4" stroke-width="1"/><line x1="40.200000000000045" x2="419.79999999999995" y1="46.60000000000002" y2="46.60000000000002" stroke="#dcdfe4" stroke-width="1"/><line x1="126.20000000000005" x2="126.20000000000005" y1="15" y2="57.299999999999955" stroke="#dcdfe4" stroke-width="1"/><text x="126.20000000000005" y="71.5" font-size="10.5" text-anchor="middle" fill="#3c4656">50</text><line x1="224.5" x2="224.5" y1="15" y2="57.299999999999955" stroke="#dcdfe4" stroke-width="1"/><text x="224.5" y="71.5" font-size="10.5" text-anchor="middle" fill="#3c4656">100</text><line x1="322.5999999999999" x2="322.5999999999999" y1="15" y2="57.299999999999955" stroke="#dcdfe4" stroke-width="1"/><text x="322.5999999999999" y="71.5" font-size="10.5" text-anchor="middle" fill="#3c4656">150</text><text x="37" y="29.5" font-size="10.5" text-anchor="end" fill="#3c4656">6000</text><text x="37" y="40" font-size="10.5" text-anchor="end" fill="#3c4656">4000</text><text x="37" y="50.5" font-size="10.5" text-anchor="end" fill="#3c4656">2000</text><rect x="40.20" y="15.60" width="7.00" height="41.70" fill="#fdcb95"/><rect x="47.80" y="28.80" width="7.00" height="28.50" fill="#fdcb95"/><rect x="55.40" y="37.30" width="7.00" height="20.00" fill="#fdcb95"/><rect x="63.00" y="43.80" width="7.00" height="13.50" fill="#fdcb95"/><rect x="70.60" y="47.70" width="7.00" height="9.60" fill="#fdcb95"/><rect x="78.20" y="50.00" width="7.00" height="7.30" fill="#fdcb95"/><rect x="85.80" y="52.40" width="7.00" height="4.90" fill="#fdcb95"/><rect x="93.40" y="53.70" width="7.00" height="3.60" fill="#fdcb95"/><rect x="101.00" y="54.40" width="7.00" height="2.90" fill="#fdcb95"/><rect x="108.60" y="55.10" width="7.00" height="2.20" fill="#fdcb95"/><rect x="116.20" y="54.20" width="7.00" height="3.10" fill="#fdcb95"/><rect x="123.80" y="52.90" width="7.00" height="4.40" fill="#fdcb95"/><rect x="131.40" y="51.80" width="7.00" height="5.50" fill="#fdcb95"/><rect x="139.00" y="46.00" width="7.00" height="11.30" fill="#f9b05c"/><rect x="146.60" y="41.00" width="7.00" height="16.30" fill="#f9b05c"/><rect x="154.20" y="44.20" width="7.00" height="13.10" fill="#f9b05c"/><rect x="161.80" y="40.00" width="7.00" height="17.30" fill="#f9b05c"/><rect x="169.40" y="42.40" width="7.00" height="14.90" fill="#f9b05c"/><rect x="177.00" y="43.50" width="7.00" height="13.80" fill="#f9b05c"/><rect x="184.60" y="45.70" width="7.00" height="11.60" fill="#f9b05c"/><rect x="192.20" y="45.70" width="7.00" height="11.60" fill="#f9b05c"/><rect x="199.80" y="52.00" width="7.00" height="5.30" fill="#f9b05c"/><rect x="207.40" y="53.70" width="7.00" height="3.60" fill="#f9b05c"/><rect x="215.00" y="55.50" width="7.00" height="1.80" fill="#f68a35"/><rect x="222.60" y="55.50" width="7.00" height="1.80" fill="#f68a35"/><rect x="230.20" y="56.00" width="7.00" height="1.3" fill="#f47a22"/><rect x="237.80" y="56.00" width="7.00" height="1.3" fill="#f47a22"/><rect x="245.40" y="56.00" width="7.00" height="1.3" fill="#f47a22"/><rect x="253.00" y="56.00" width="7.00" height="1.3" fill="#f47a22"/><rect x="260.60" y="56.00" width="7.00" height="1.3" fill="#f47a22"/><rect x="268.20" y="56.00" width="7.00" height="1.3" fill="#f47a22"/><rect x="275.80" y="56.00" width="7.00" height="1.3" fill="#f47a22"/><rect x="283.40" y="56.00" width="7.00" height="1.3" fill="#f47a22"/><rect x="291.00" y="56.00" width="7.00" height="1.3" fill="#f47a22"/><rect x="298.60" y="56.00" width="7.00" height="1.3" fill="#f47a22"/><rect x="306.20" y="56.00" width="7.00" height="1.3" fill="#f47a22"/><rect x="313.80" y="56.00" width="7.00" height="1.3" fill="#f47a22"/><rect x="321.40" y="56.00" width="7.00" height="1.3" fill="#f47a22"/><rect x="329.00" y="56.00" width="7.00" height="1.3" fill="#f47a22"/><rect x="336.60" y="56.00" width="7.00" height="1.3" fill="#f47a22"/><rect x="344.20" y="56.00" width="7.00" height="1.3" fill="#f47a22"/><rect x="405.00" y="56.00" width="7.00" height="1.3" fill="#f47a22"/><line x1="40.200000000000045" x2="419.79999999999995" y1="57.299999999999955" y2="57.299999999999955" stroke="#cfd3d8" stroke-width="1"/><rect x="77.5" y="15.299999999999955" width="2.6" height="42" fill="#16301c"/><rect x="78.29999999999995" y="15.299999999999955" width="1" height="42" fill="#3cc05a" opacity="0.8"/><line x1="40.200000000000045" x2="419.79999999999995" y1="95.29999999999995" y2="95.29999999999995" stroke="#dcdfe4" stroke-width="1"/><text x="37" y="99.09999999999991" font-size="10.5" text-anchor="end" fill="#3c4656">20k</text><line x1="40.200000000000045" x2="419.79999999999995" y1="111" y2="111" stroke="#dcdfe4" stroke-width="1"/><text x="37" y="114.79999999999995" font-size="10.5" text-anchor="end" fill="#3c4656">10k</text><line x1="142" x2="142" y1="81" y2="126.39999999999998" stroke="#dcdfe4" stroke-width="1"/><text x="142" y="139" font-size="10.5" text-anchor="middle" fill="#3c4656">−0.5</text><line x1="264.5" x2="264.5" y1="81" y2="126.39999999999998" stroke="#dcdfe4" stroke-width="1"/><text x="264.5" y="139" font-size="10.5" text-anchor="middle" fill="#3c4656">0</text><line x1="386.70000000000005" x2="386.70000000000005" y1="81" y2="126.39999999999998" stroke="#dcdfe4" stroke-width="1"/><text x="386.70000000000005" y="139" font-size="10.5" text-anchor="middle" fill="#3c4656">0.5</text><rect x="161.90" y="124.20" width="7.02" height="2.20" fill="#f87f7e"/><rect x="169.52" y="123.20" width="7.02" height="3.20" fill="#f87f7e"/><rect x="177.14" y="120.30" width="7.02" height="6.10" fill="#f87f7e"/><rect x="184.76" y="116.60" width="7.02" height="9.80" fill="#f87f7e"/><rect x="192.38" y="112.00" width="7.02" height="14.40" fill="#f87f7e"/><rect x="200.00" y="106.50" width="7.02" height="19.90" fill="#f87f7e"/><rect x="207.62" y="99.40" width="7.02" height="27.00" fill="#f87f7e"/><rect x="215.24" y="92.30" width="7.02" height="34.10" fill="#f87f7e"/><rect x="222.86" y="88.20" width="7.02" height="38.20" fill="#f87f7e"/><rect x="230.48" y="83.10" width="7.02" height="43.30" fill="#f87f7e"/><rect x="238.10" y="82.70" width="7.02" height="43.70" fill="#f87f7e"/><rect x="245.72" y="86.20" width="7.02" height="40.20" fill="#f87f7e"/><rect x="253.34" y="92.90" width="7.02" height="33.50" fill="#f87f7e"/><rect x="260.96" y="99.80" width="7.02" height="26.60" fill="#f87f7e"/><rect x="268.58" y="107.10" width="7.02" height="19.30" fill="#7c7af2"/><rect x="276.20" y="114.00" width="7.02" height="12.40" fill="#7c7af2"/><rect x="283.82" y="118.70" width="7.02" height="7.70" fill="#7c7af2"/><rect x="291.44" y="122.30" width="7.02" height="4.10" fill="#7c7af2"/><rect x="299.06" y="124.00" width="7.02" height="2.40" fill="#7c7af2"/><rect x="62.84" y="125.00" width="7.02" height="1.4" fill="#f87f7e"/><rect x="70.46" y="125.00" width="7.02" height="1.4" fill="#f87f7e"/><rect x="85.70" y="125.00" width="7.02" height="1.4" fill="#f87f7e"/><rect x="93.32" y="125.00" width="7.02" height="1.4" fill="#f87f7e"/><rect x="100.94" y="125.00" width="7.02" height="1.4" fill="#f87f7e"/><rect x="108.56" y="125.00" width="7.02" height="1.4" fill="#f87f7e"/><rect x="116.18" y="125.00" width="7.02" height="1.4" fill="#f87f7e"/><rect x="123.80" y="125.00" width="7.02" height="1.4" fill="#f87f7e"/><rect x="131.42" y="125.00" width="7.02" height="1.4" fill="#f87f7e"/><rect x="139.04" y="125.00" width="7.02" height="1.4" fill="#f87f7e"/><rect x="146.66" y="125.00" width="7.02" height="1.4" fill="#f87f7e"/><rect x="154.28" y="125.00" width="7.02" height="1.4" fill="#f87f7e"/><rect x="306.68" y="125.00" width="7.02" height="1.4" fill="#7c7af2"/><rect x="314.30" y="125.00" width="7.02" height="1.4" fill="#7c7af2"/><rect x="321.92" y="125.00" width="7.02" height="1.4" fill="#7c7af2"/><rect x="329.54" y="125.00" width="7.02" height="1.4" fill="#7c7af2"/><rect x="337.16" y="125.00" width="7.02" height="1.4" fill="#7c7af2"/><rect x="344.78" y="125.00" width="7.02" height="1.4" fill="#7c7af2"/><rect x="352.40" y="125.00" width="7.02" height="1.4" fill="#7c7af2"/><rect x="360.02" y="125.00" width="7.02" height="1.4" fill="#7c7af2"/><line x1="40.200000000000045" x2="419.79999999999995" y1="126.39999999999998" y2="126.39999999999998" stroke="#cfd3d8" stroke-width="1"/></svg>
<div class="a" style="left:1035px;top:874px;width:865px;height:32px;background:#eef1f5"></div>
<div class="a mono" style="left:1050.5px;top:884.5px;font-size:11px;font-weight:bold;color:#2a3446">TOP</div>
<div class="a mono" style="left:1076px;top:881px;width:81px;height:19px;background:#3ecf8e;border-radius:3px;font-size:11px;font-weight:bold;line-height:19px;text-align:center;color:#174a32">ACTIVATIONS</div>
<div class="a" style="left:1035px;top:975.5px;width:865px;height:1px;background:#e9edf2"></div>
<div class="a" style="left:1035px;top:1045.0px;width:865px;height:1px;background:#e9edf2"></div>
<div class="a" style="left:1035px;top:1114.5px;width:865px;height:1px;background:#e9edf2"></div>
<div class="a mono" style="left:1064.6px;top:919.9px;width:72px;height:19px;background:#eef1f5;border-radius:5px;text-align:center;line-height:21px;font-size:13.3px;font-weight:bold;color:#27314a;white-space:pre"> Dallas</div>
<div class="a" style="left:1050px;top:943.9px;width:101px;text-align:center;font-size:14.5px;font-weight:bold;color:#2b9a52">199.65</div>
<div class="a mono" style="left:1084.6px;top:989.5px;width:32px;height:19px;background:#eef1f5;border-radius:5px;text-align:center;line-height:21px;font-size:13.3px;font-weight:bold;color:#27314a;white-space:pre">TX</div>
<div class="a" style="left:1050px;top:1013.3px;width:101px;text-align:center;font-size:14.5px;font-weight:bold;color:#2b9a52">192.88</div>
<div class="a mono" style="left:1084.6px;top:1059.5px;width:32px;height:19px;background:#eef1f5;border-radius:5px;text-align:center;line-height:21px;font-size:13.3px;font-weight:bold;color:#27314a;white-space:pre">TX</div>
<div class="a" style="left:1050px;top:1083.2px;width:101px;text-align:center;font-size:14.5px;font-weight:bold;color:#2b9a52">192.88</div>
<div class="a mono" style="left:1084.6px;top:1128.5px;width:32px;height:19px;background:#eef1f5;border-radius:5px;text-align:center;line-height:21px;font-size:13.3px;font-weight:bold;color:#27314a;white-space:pre">TX</div>
<div class="a" style="left:1156.0px;top:932.2px;width:62.0px;height:17.8px;background:#3ecf8e"></div><div class="act" style="left:1166.0px;top:934.2px">Dallas</div><div class="a" style="left:1218.0px;top:932.2px;width:70.5px;height:17.8px;background:#9fe6c2"></div><div class="act" style="left:1228.6px;top:934.2px">Cowboys</div><div class="act" style="left:1299.0px;top:934.2px">for</div><div class="act" style="left:1336.5px;top:934.2px">first</div><div class="act" style="left:1390.4px;top:934.2px">place</div><div class="act" style="left:1434.5px;top:934.2px">↵</div><div class="act" style="left:1449.0px;top:934.2px">in</div><div class="act" style="left:1478.5px;top:934.2px">the</div><div class="act" style="left:1516.0px;top:934.2px">NFC</div><div class="a" style="left:1543.7px;top:932.2px;width:45.0px;height:17.8px;background:#c4f0da"></div><div class="act" style="left:1554.5px;top:934.2px">East</div><div class="act" style="left:1594.3px;top:934.2px">.</div><div class="act" style="left:1613.0px;top:934.2px">The</div><div class="a" style="left:1640.3px;top:932.2px;width:68.9px;height:17.8px;background:#c4f0da"></div><div class="act" style="left:1650.6px;top:934.2px">Cowboys</div><div class="act" style="left:1720.9px;top:934.2px">own</div><div class="act" style="left:1758.4px;top:934.2px">the</div><div class="act" style="left:1795.9px;top:934.2px">tie</div>
<div class="a" style="left:1156.0px;top:1001.6px;width:21.0px;height:17.8px;background:#3ecf8e"></div><div class="act" style="left:1157.0px;top:1003.6px">TX</div><div class="act" style="left:1180.3px;top:1003.6px">PKT</div><div class="act" style="left:1209.9px;top:1003.6px">_</div><div class="act" style="left:1224.0px;top:1003.6px">INT</div><div class="act" style="left:1253.0px;top:1003.6px">F</div><div class="act" style="left:1267.0px;top:1003.6px">(</div><div class="act" style="left:1280.0px;top:1003.6px">x</div><div class="act" style="left:1294.0px;top:1003.6px">)</div><div class="act" style="left:1315.4px;top:1003.6px">((</div><div class="act" style="left:1336.5px;top:1003.6px">x</div><div class="act" style="left:1350.5px;top:1003.6px">)</div><div class="act" style="left:1370.7px;top:1003.6px">&lt;&lt;</div><div class="act" style="left:1400.7px;top:1003.6px">S</div><div class="act" style="left:1413.8px;top:1003.6px">_</div><div class="a" style="left:1424.0px;top:1001.6px;width:21.7px;height:17.8px;background:#c4f0da"></div><div class="act" style="left:1425.0px;top:1003.6px">TX</div><div class="a" style="left:1445.7px;top:1001.6px;width:29.3px;height:17.8px;background:#dff6ea"></div><div class="act" style="left:1447.0px;top:1003.6px">PKT</div>
<div class="a" style="left:1156.0px;top:1071.5px;width:21.0px;height:17.8px;background:#3ecf8e"></div><div class="act" style="left:1157.0px;top:1073.5px">TX</div><div class="act" style="left:1180.3px;top:1073.5px">PKT</div><div class="act" style="left:1209.9px;top:1073.5px">_</div><div class="act" style="left:1222.5px;top:1073.5px">OPCODE</div><div class="act" style="left:1278.8px;top:1073.5px">)</div><div class="act" style="left:1291.0px;top:1073.5px">↵</div><div class="act" style="left:1304.6px;top:1073.5px">#</div><div class="act" style="left:1316.8px;top:1073.5px">define</div><div class="act" style="left:1378.6px;top:1073.5px">G</div><div class="act" style="left:1392.7px;top:1073.5px">_</div><div class="a" style="left:1403.5px;top:1071.5px;width:50.2px;height:17.8px;background:#c4f0da"></div><div class="act" style="left:1405.0px;top:1073.5px">TX PKT</div><div class="act" style="left:1458.3px;top:1073.5px">_</div><div class="act" style="left:1470.0px;top:1073.5px">OPCODE</div><div class="act" style="left:1526.3px;top:1073.5px">(</div><div class="act" style="left:1538.0px;top:1073.5px">x</div>
<div class="a" style="left:1035px;top:1100px;width:865px;height:55px;overflow:hidden"><div class="a" style="left:-1035px;top:-1100px;width:1920px;height:1167px"><div class="a" style="left:1156.0px;top:1140.9px;width:21.0px;height:17.8px;background:#3ecf8e"></div><div class="act" style="left:1157.0px;top:1142.9px">TX</div><div class="a" style="left:1177.0px;top:1140.9px;width:12.7px;height:17.8px;background:#c4f0da"></div><div class="act" style="left:1192.5px;top:1142.9px">MORE</div><div class="act" style="left:1233.3px;top:1142.9px">(</div><div class="act" style="left:1245.0px;top:1142.9px">x</div><div class="act" style="left:1259.0px;top:1142.9px">)</div><div class="act" style="left:1280.2px;top:1142.9px">((</div><div class="act" style="left:1301.3px;top:1142.9px">x</div><div class="act" style="left:1315.4px;top:1142.9px">)</div><div class="a" style="left:1324.7px;top:1140.9px;width:29.1px;height:17.8px;background:#c4f0da"></div><div class="act" style="left:1335.0px;top:1142.9px">&lt;&lt;</div><div class="act" style="left:1364.6px;top:1142.9px">S</div><div class="a" style="left:1389.0px;top:1140.9px;width:21.5px;height:17.8px;background:#c4f0da"></div><div class="act" style="left:1392.7px;top:1142.9px">TX</div><div class="act" style="left:1426.5px;top:1142.9px">MORE</div><div class="act" style="left:1465.4px;top:1142.9px">)</div></div></div>
</body></html>
